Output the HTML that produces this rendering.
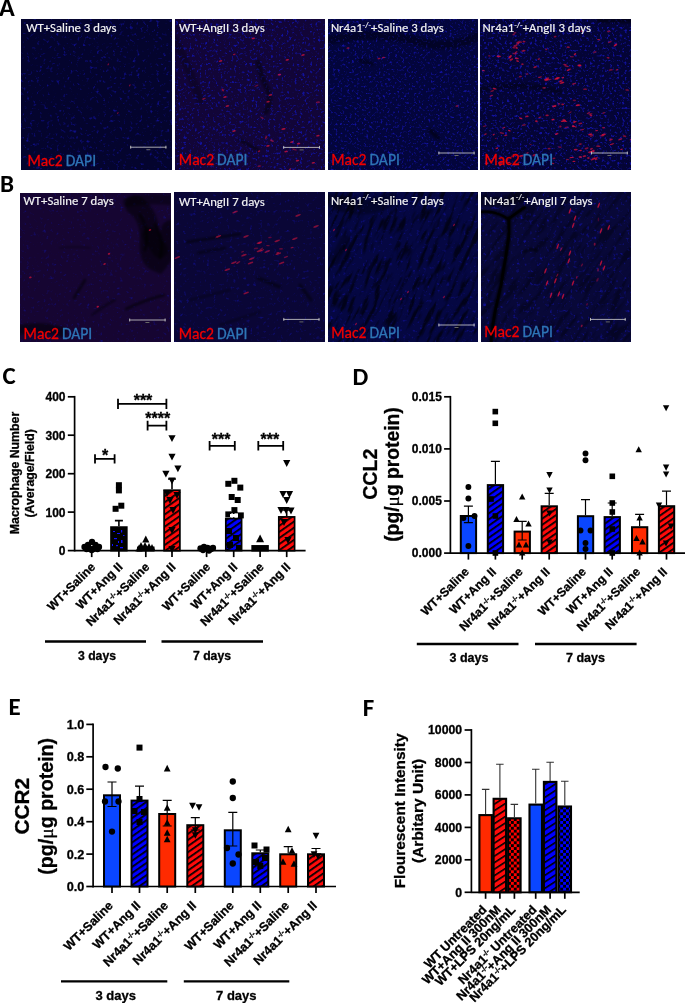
<!DOCTYPE html>
<html><head><meta charset="utf-8"><title>Figure</title>
<style>html,body{margin:0;padding:0;background:#fff;width:685px;height:1003px;overflow:hidden}svg{display:block}</style>
</head><body>
<svg width="685" height="1003" viewBox="0 0 685 1003">
<defs>
<filter id="rb" x="-50%" y="-50%" width="200%" height="200%"><feGaussianBlur stdDeviation="0.5"/></filter>
<filter id="db" x="-50%" y="-50%" width="200%" height="200%"><feGaussianBlur stdDeviation="1.2"/></filter>
<clipPath id="cp0"><rect x="21" y="19" width="151" height="151"/></clipPath>
<filter id="nz0" x="21" y="19" width="151" height="151" filterUnits="userSpaceOnUse" color-interpolation-filters="sRGB">
<feTurbulence type="fractalNoise" baseFrequency="0.3" numOctaves="2" seed="7"/>
<feColorMatrix type="matrix" values="0 0 0 0 0.07  0 0 0 0 0.07  0 0 0 0 0.62  3.30 0 0 0 -1.98"/>
<feGaussianBlur stdDeviation="0.55"/>
</filter>
<clipPath id="cp1"><rect x="175" y="19" width="150" height="151"/></clipPath>
<filter id="nz1" x="175" y="19" width="150" height="151" filterUnits="userSpaceOnUse" color-interpolation-filters="sRGB">
<feTurbulence type="fractalNoise" baseFrequency="0.38" numOctaves="2" seed="14"/>
<feColorMatrix type="matrix" values="0 0 0 0 0.07  0 0 0 0 0.07  0 0 0 0 0.62  4.80 0 0 0 -2.74"/>
<feGaussianBlur stdDeviation="0.55"/>
</filter>
<clipPath id="cp2"><rect x="328" y="19" width="150" height="151"/></clipPath>
<filter id="nz2" x="328" y="19" width="150" height="151" filterUnits="userSpaceOnUse" color-interpolation-filters="sRGB">
<feTurbulence type="fractalNoise" baseFrequency="0.42" numOctaves="2" seed="21"/>
<feColorMatrix type="matrix" values="0 0 0 0 0.07  0 0 0 0 0.07  0 0 0 0 0.62  4.20 0 0 0 -2.35"/>
<feGaussianBlur stdDeviation="0.55"/>
</filter>
<clipPath id="cp3"><rect x="480" y="19" width="151" height="151"/></clipPath>
<filter id="nz3" x="480" y="19" width="151" height="151" filterUnits="userSpaceOnUse" color-interpolation-filters="sRGB">
<feTurbulence type="fractalNoise" baseFrequency="0.4" numOctaves="2" seed="28"/>
<feColorMatrix type="matrix" values="0 0 0 0 0.07  0 0 0 0 0.07  0 0 0 0 0.62  4.80 0 0 0 -2.69"/>
<feGaussianBlur stdDeviation="0.55"/>
</filter>
<clipPath id="cp4"><rect x="20" y="193" width="151" height="149"/></clipPath>
<filter id="nz4" x="20" y="193" width="151" height="149" filterUnits="userSpaceOnUse" color-interpolation-filters="sRGB">
<feTurbulence type="fractalNoise" baseFrequency="0.3" numOctaves="2" seed="35"/>
<feColorMatrix type="matrix" values="0 0 0 0 0.07  0 0 0 0 0.07  0 0 0 0 0.62  2.10 0 0 0 -1.30"/>
<feGaussianBlur stdDeviation="0.55"/>
</filter>
<clipPath id="cp5"><rect x="174" y="192" width="151" height="150"/></clipPath>
<filter id="nz5" x="174" y="192" width="151" height="150" filterUnits="userSpaceOnUse" color-interpolation-filters="sRGB">
<feTurbulence type="fractalNoise" baseFrequency="0.3" numOctaves="2" seed="42"/>
<feColorMatrix type="matrix" values="0 0 0 0 0.07  0 0 0 0 0.07  0 0 0 0 0.62  2.40 0 0 0 -1.49"/>
<feGaussianBlur stdDeviation="0.55"/>
</filter>
<clipPath id="cp6"><rect x="328" y="192" width="150" height="150"/></clipPath>
<filter id="nz6" x="328" y="192" width="150" height="150" filterUnits="userSpaceOnUse" color-interpolation-filters="sRGB">
<feTurbulence type="fractalNoise" baseFrequency="0.3" numOctaves="2" seed="49"/>
<feColorMatrix type="matrix" values="0 0 0 0 0.07  0 0 0 0 0.07  0 0 0 0 0.62  2.70 0 0 0 -1.67"/>
<feGaussianBlur stdDeviation="0.55"/>
</filter>
<filter id="st6" x="-20%" y="-20%" width="140%" height="140%" color-interpolation-filters="sRGB">
<feTurbulence type="fractalNoise" baseFrequency="0.22 0.045" numOctaves="2" seed="77"/>
<feColorMatrix type="matrix" values="0 0 0 0 0  0 0 0 0 0  0 0 0 0 0  -6 0 0 0 2.95"/>
<feGaussianBlur stdDeviation="0.7"/>
</filter>
<clipPath id="cp7"><rect x="481" y="192" width="150" height="150"/></clipPath>
<filter id="nz7" x="481" y="192" width="150" height="150" filterUnits="userSpaceOnUse" color-interpolation-filters="sRGB">
<feTurbulence type="fractalNoise" baseFrequency="0.3" numOctaves="2" seed="56"/>
<feColorMatrix type="matrix" values="0 0 0 0 0.07  0 0 0 0 0.07  0 0 0 0 0.62  3.30 0 0 0 -1.98"/>
<feGaussianBlur stdDeviation="0.55"/>
</filter>
<filter id="st7" x="-20%" y="-20%" width="140%" height="140%" color-interpolation-filters="sRGB">
<feTurbulence type="fractalNoise" baseFrequency="0.2 0.04" numOctaves="2" seed="88"/>
<feColorMatrix type="matrix" values="0 0 0 0 0  0 0 0 0 0  0 0 0 0 0  -6 0 0 0 2.95"/>
<feGaussianBlur stdDeviation="0.7"/>
</filter>

<pattern id="hB" patternUnits="userSpaceOnUse" width="5" height="5" patternTransform="rotate(-35)"><rect width="5" height="5" fill="#0000ff"/><rect width="5" height="1.75" fill="#000"/></pattern>
<pattern id="hR" patternUnits="userSpaceOnUse" width="5" height="5" patternTransform="rotate(-35)"><rect width="5" height="5" fill="#ff0a0a"/><rect width="5" height="1.75" fill="#000"/></pattern>
<pattern id="hBf" patternUnits="userSpaceOnUse" width="5.45" height="5.45" patternTransform="rotate(-33)"><rect width="5.45" height="5.45" fill="#0000ff"/><rect width="5.45" height="1.6" fill="#000"/></pattern>
<pattern id="hRf" patternUnits="userSpaceOnUse" width="5.45" height="5.45" patternTransform="rotate(-33)"><rect width="5.45" height="5.45" fill="#ff0a0a"/><rect width="5.45" height="1.6" fill="#000"/></pattern>
<pattern id="cR" patternUnits="userSpaceOnUse" x="0.5" y="0.3" width="5.8" height="5.8"><rect width="5.8" height="5.8" fill="#000"/><rect width="2.9" height="2.9" fill="#ff0000"/><rect x="2.9" y="2.9" width="2.9" height="2.9" fill="#ff0000"/></pattern>
<pattern id="cB" patternUnits="userSpaceOnUse" x="0.5" y="0.3" width="5.8" height="5.8"><rect width="5.8" height="5.8" fill="#000"/><rect width="2.9" height="2.9" fill="#0000ff"/><rect x="2.9" y="2.9" width="2.9" height="2.9" fill="#0000ff"/></pattern>

</defs>
<rect width="685" height="1003" fill="#fff"/>
<g clip-path="url(#cp0)">
<rect x="21" y="19" width="151" height="151" fill="rgb(4,4,46)"/>
<rect x="21" y="19" width="151" height="151" filter="url(#nz0)"/>
<g filter="url(#rb)">
<ellipse cx="108.3" cy="64.4" rx="1.2" ry="0.6" transform="rotate(-60 108.3 64.4)" fill="#e8143c" fill-opacity="0.51"/>
<ellipse cx="129.8" cy="85.4" rx="1.2" ry="0.6" transform="rotate(-60 129.8 85.4)" fill="#e8143c" fill-opacity="0.51"/>
<ellipse cx="117.8" cy="113.0" rx="1.2" ry="0.6" transform="rotate(-60 117.8 113.0)" fill="#e8143c" fill-opacity="0.51"/>
</g>
</g>
<text x="26.2" y="32.0" font-family="Carlito, Calibri, 'Liberation Sans', sans-serif" font-size="12.75" fill="#f4f4f4" stroke="#f4f4f4" stroke-width="0.15" textLength="90.2" lengthAdjust="spacingAndGlyphs">WT+Saline 3 days</text>
<text x="27.4" y="165.8" font-family="Carlito, Calibri, 'Liberation Sans', sans-serif" font-size="15.6" fill="#f00000" stroke="#f00000" stroke-width="0.3" textLength="35.31" lengthAdjust="spacingAndGlyphs">Mac2</text>
<text x="65.7" y="165.8" font-family="Carlito, Calibri, 'Liberation Sans', sans-serif" font-size="15.6" fill="#2e75b6" stroke="#2e75b6" stroke-width="0.3" textLength="30.38" lengthAdjust="spacingAndGlyphs">DAPI</text>
<path d="M130.2 147.2H166.4M130.7 145.7v3M165.9 145.7v3" stroke="#c8c8c8" stroke-width="0.85" fill="none"/>
<rect x="146.3" y="149.2" width="4" height="1" fill="#666"/>
<g clip-path="url(#cp1)">
<rect x="175" y="19" width="150" height="151" fill="rgb(18,5,56)"/>
<rect x="175" y="19" width="150" height="151" filter="url(#nz1)"/>
<g filter="url(#db)" fill="none" stroke="#000" stroke-linecap="round">
<path d="M258 62 Q262 80 268 90 Q272 100 266 112" stroke-width="5" stroke-opacity="0.45"/>
<path d="M240 140 L258 150" stroke-width="3" stroke-opacity="0.5"/>
<path d="M175 40 Q190 70 200 100" stroke-width="8" stroke-opacity="0.25"/>
</g>
<g filter="url(#rb)">
<ellipse cx="253.3" cy="38.4" rx="1.8" ry="0.8" transform="rotate(-10 253.3 38.4)" fill="#e8143c" fill-opacity="0.68"/>
<ellipse cx="287.3" cy="59.9" rx="1.8" ry="0.8" transform="rotate(-10 287.3 59.9)" fill="#e8143c" fill-opacity="0.68"/>
<ellipse cx="303.0" cy="55.0" rx="1.8" ry="0.8" transform="rotate(-10 303.0 55.0)" fill="#e8143c" fill-opacity="0.68"/>
<ellipse cx="220.5" cy="61.0" rx="1.8" ry="0.8" transform="rotate(-10 220.5 61.0)" fill="#e8143c" fill-opacity="0.68"/>
<ellipse cx="270.3" cy="95.0" rx="1.8" ry="0.8" transform="rotate(-10 270.3 95.0)" fill="#e8143c" fill-opacity="0.68"/>
<ellipse cx="268.0" cy="101.7" rx="1.8" ry="0.8" transform="rotate(-10 268.0 101.7)" fill="#e8143c" fill-opacity="0.68"/>
<ellipse cx="279.4" cy="74.6" rx="1.8" ry="0.8" transform="rotate(-10 279.4 74.6)" fill="#e8143c" fill-opacity="0.68"/>
<ellipse cx="227.3" cy="106.0" rx="1.8" ry="0.8" transform="rotate(-10 227.3 106.0)" fill="#e8143c" fill-opacity="0.68"/>
<ellipse cx="234.0" cy="131.0" rx="1.8" ry="0.8" transform="rotate(-10 234.0 131.0)" fill="#e8143c" fill-opacity="0.68"/>
<ellipse cx="283.9" cy="128.9" rx="1.8" ry="0.8" transform="rotate(-10 283.9 128.9)" fill="#e8143c" fill-opacity="0.68"/>
<ellipse cx="268.0" cy="145.9" rx="1.8" ry="0.8" transform="rotate(-10 268.0 145.9)" fill="#e8143c" fill-opacity="0.68"/>
<ellipse cx="291.8" cy="142.0" rx="1.8" ry="0.8" transform="rotate(-10 291.8 142.0)" fill="#e8143c" fill-opacity="0.68"/>
<ellipse cx="298.6" cy="143.6" rx="1.8" ry="0.8" transform="rotate(-10 298.6 143.6)" fill="#e8143c" fill-opacity="0.68"/>
<ellipse cx="317.8" cy="135.7" rx="1.8" ry="0.8" transform="rotate(-10 317.8 135.7)" fill="#e8143c" fill-opacity="0.68"/>
<ellipse cx="286.0" cy="151.5" rx="1.8" ry="0.8" transform="rotate(-10 286.0 151.5)" fill="#e8143c" fill-opacity="0.68"/>
<ellipse cx="297.5" cy="160.6" rx="1.8" ry="0.8" transform="rotate(-10 297.5 160.6)" fill="#e8143c" fill-opacity="0.68"/>
<ellipse cx="313.3" cy="162.8" rx="1.8" ry="0.8" transform="rotate(-10 313.3 162.8)" fill="#e8143c" fill-opacity="0.68"/>
<ellipse cx="225.0" cy="97.0" rx="1.8" ry="0.8" transform="rotate(-10 225.0 97.0)" fill="#e8143c" fill-opacity="0.68"/>
<ellipse cx="336.8" cy="113.4" rx="1.3" ry="0.6" transform="rotate(15 336.8 113.4)" fill="#e8143c" fill-opacity="0.51"/>
<ellipse cx="262.0" cy="117.8" rx="2.0" ry="0.8" transform="rotate(28 262.0 117.8)" fill="#e8143c" fill-opacity="0.38"/>
<ellipse cx="271.9" cy="140.6" rx="2.2" ry="1.0" transform="rotate(26 271.9 140.6)" fill="#e8143c" fill-opacity="0.45"/>
<ellipse cx="282.2" cy="129.2" rx="1.2" ry="0.8" transform="rotate(-2 282.2 129.2)" fill="#e8143c" fill-opacity="0.42"/>
<ellipse cx="259.3" cy="166.1" rx="1.9" ry="0.8" transform="rotate(-9 259.3 166.1)" fill="#e8143c" fill-opacity="0.42"/>
<ellipse cx="294.4" cy="149.5" rx="2.6" ry="0.9" transform="rotate(17 294.4 149.5)" fill="#e8143c" fill-opacity="0.39"/>
<ellipse cx="318.0" cy="102.3" rx="2.2" ry="1.0" transform="rotate(-6 318.0 102.3)" fill="#e8143c" fill-opacity="0.43"/>
<ellipse cx="254.8" cy="193.5" rx="1.4" ry="0.9" transform="rotate(-19 254.8 193.5)" fill="#e8143c" fill-opacity="0.52"/>
<ellipse cx="266.1" cy="137.4" rx="1.9" ry="1.0" transform="rotate(-67 266.1 137.4)" fill="#e8143c" fill-opacity="0.43"/>
<ellipse cx="289.8" cy="169.7" rx="1.8" ry="0.8" transform="rotate(-53 289.8 169.7)" fill="#e8143c" fill-opacity="0.57"/>
<ellipse cx="234.3" cy="54.4" rx="1.5" ry="0.7" transform="rotate(-16 234.3 54.4)" fill="#e8143c" fill-opacity="0.57"/>
<ellipse cx="222.8" cy="90.0" rx="1.6" ry="1.0" transform="rotate(56 222.8 90.0)" fill="#e8143c" fill-opacity="0.52"/>
<ellipse cx="203.8" cy="98.7" rx="2.1" ry="0.8" transform="rotate(-18 203.8 98.7)" fill="#e8143c" fill-opacity="0.47"/>
<ellipse cx="259.0" cy="151.2" rx="1.3" ry="0.9" transform="rotate(-27 259.0 151.2)" fill="#e8143c" fill-opacity="0.53"/>
<ellipse cx="256.4" cy="85.7" rx="2.2" ry="0.6" transform="rotate(-24 256.4 85.7)" fill="#e8143c" fill-opacity="0.40"/>
</g>
</g>
<text x="178.9" y="31.9" font-family="Carlito, Calibri, 'Liberation Sans', sans-serif" font-size="12.75" fill="#f4f4f4" stroke="#f4f4f4" stroke-width="0.15" textLength="85.86" lengthAdjust="spacingAndGlyphs">WT+AngII 3 days</text>
<text x="178.8" y="164.9" font-family="Carlito, Calibri, 'Liberation Sans', sans-serif" font-size="15.6" fill="#f00000" stroke="#f00000" stroke-width="0.3" textLength="35.31" lengthAdjust="spacingAndGlyphs">Mac2</text>
<text x="217.1" y="164.9" font-family="Carlito, Calibri, 'Liberation Sans', sans-serif" font-size="15.6" fill="#2e75b6" stroke="#2e75b6" stroke-width="0.3" textLength="30.38" lengthAdjust="spacingAndGlyphs">DAPI</text>
<path d="M283.2 147.4H320M283.7 145.9v3M319.5 145.9v3" stroke="#c8c8c8" stroke-width="0.85" fill="none"/>
<rect x="299.6" y="149.4" width="4" height="1" fill="#666"/>
<g clip-path="url(#cp2)">
<rect x="328" y="19" width="150" height="151" fill="rgb(3,5,60)"/>
<rect x="328" y="19" width="150" height="151" filter="url(#nz2)"/>
<g filter="url(#db)" fill="none" stroke="#000" stroke-linecap="round">
<path d="M330 40 Q380 30 420 42 Q450 50 478 36" stroke-width="9" stroke-opacity="0.35"/>
<path d="M430 130 L438 138" stroke-width="4" stroke-opacity="0.5"/>
<path d="M360 60 L372 64" stroke-width="4" stroke-opacity="0.4"/>
</g>
<g filter="url(#rb)">
<ellipse cx="379.0" cy="58.5" rx="1.6" ry="0.8" transform="rotate(-10 379.0 58.5)" fill="#e8143c" fill-opacity="0.59"/>
<ellipse cx="383.5" cy="57.5" rx="1.6" ry="0.8" transform="rotate(-10 383.5 57.5)" fill="#e8143c" fill-opacity="0.59"/>
<ellipse cx="457.0" cy="106.0" rx="1.6" ry="0.8" transform="rotate(-10 457.0 106.0)" fill="#e8143c" fill-opacity="0.59"/>
<ellipse cx="348.0" cy="48.0" rx="1.6" ry="0.8" transform="rotate(-10 348.0 48.0)" fill="#e8143c" fill-opacity="0.59"/>
</g>
</g>
<text x="330.9" y="32.0" font-family="Carlito, Calibri, 'Liberation Sans', sans-serif" font-size="12.75" fill="#f4f4f4" stroke="#f4f4f4" stroke-width="0.15" textLength="112.88" lengthAdjust="spacingAndGlyphs">Nr4a1<tspan dy="-4.2" font-size="8.5">-/-</tspan><tspan dy="4.2">+Saline 3 days</tspan></text>
<text x="331.2" y="165.4" font-family="Carlito, Calibri, 'Liberation Sans', sans-serif" font-size="15.6" fill="#f00000" stroke="#f00000" stroke-width="0.3" textLength="35.31" lengthAdjust="spacingAndGlyphs">Mac2</text>
<text x="369.5" y="165.4" font-family="Carlito, Calibri, 'Liberation Sans', sans-serif" font-size="15.6" fill="#2e75b6" stroke="#2e75b6" stroke-width="0.3" textLength="30.38" lengthAdjust="spacingAndGlyphs">DAPI</text>
<path d="M438.4 153.0H474.6M438.9 151.5v3M474.1 151.5v3" stroke="#c8c8c8" stroke-width="0.85" fill="none"/>
<rect x="454.5" y="155.0" width="4" height="1" fill="#666"/>
<g clip-path="url(#cp3)">
<rect x="480" y="19" width="151" height="151" fill="rgb(4,4,54)"/>
<rect x="480" y="19" width="151" height="151" filter="url(#nz3)"/>
<g filter="url(#db)" fill="none" stroke="#000" stroke-linecap="round">
<path d="M480 90 Q520 80 560 92" stroke-width="5" stroke-opacity="0.35"/>
<path d="M600 20 L631 20" stroke-width="6" stroke-opacity="0.5"/>
</g>
<g filter="url(#rb)">
<ellipse cx="516.6" cy="47.9" rx="1.3" ry="0.8" transform="rotate(11 516.6 47.9)" fill="#e8143c" fill-opacity="0.74"/>
<ellipse cx="513.7" cy="47.7" rx="1.5" ry="0.7" transform="rotate(7 513.7 47.7)" fill="#e8143c" fill-opacity="0.54"/>
<ellipse cx="523.4" cy="50.8" rx="2.2" ry="0.9" transform="rotate(-6 523.4 50.8)" fill="#e8143c" fill-opacity="0.60"/>
<ellipse cx="515.5" cy="45.7" rx="2.2" ry="1.0" transform="rotate(-22 515.5 45.7)" fill="#e8143c" fill-opacity="0.54"/>
<ellipse cx="565.4" cy="121.3" rx="1.8" ry="0.6" transform="rotate(14 565.4 121.3)" fill="#e8143c" fill-opacity="0.67"/>
<ellipse cx="564.2" cy="120.3" rx="1.9" ry="1.0" transform="rotate(17 564.2 120.3)" fill="#e8143c" fill-opacity="0.76"/>
<ellipse cx="562.6" cy="121.2" rx="1.9" ry="0.8" transform="rotate(-3 562.6 121.2)" fill="#e8143c" fill-opacity="0.75"/>
<ellipse cx="574.9" cy="121.8" rx="2.0" ry="0.7" transform="rotate(-7 574.9 121.8)" fill="#e8143c" fill-opacity="0.67"/>
<ellipse cx="556.2" cy="78.6" rx="1.7" ry="0.7" transform="rotate(-14 556.2 78.6)" fill="#e8143c" fill-opacity="0.62"/>
<ellipse cx="547.4" cy="78.5" rx="1.9" ry="1.0" transform="rotate(-19 547.4 78.5)" fill="#e8143c" fill-opacity="0.54"/>
<ellipse cx="556.3" cy="79.0" rx="2.1" ry="0.8" transform="rotate(-7 556.3 79.0)" fill="#e8143c" fill-opacity="0.56"/>
<ellipse cx="557.9" cy="78.1" rx="2.0" ry="1.0" transform="rotate(-7 557.9 78.1)" fill="#e8143c" fill-opacity="0.79"/>
<ellipse cx="593.0" cy="158.9" rx="2.4" ry="0.9" transform="rotate(-32 593.0 158.9)" fill="#e8143c" fill-opacity="0.69"/>
<ellipse cx="596.2" cy="159.3" rx="1.4" ry="0.8" transform="rotate(-17 596.2 159.3)" fill="#e8143c" fill-opacity="0.55"/>
<ellipse cx="574.0" cy="161.4" rx="1.6" ry="0.6" transform="rotate(-1 574.0 161.4)" fill="#e8143c" fill-opacity="0.74"/>
<ellipse cx="588.4" cy="158.0" rx="1.3" ry="1.0" transform="rotate(-0 588.4 158.0)" fill="#e8143c" fill-opacity="0.64"/>
<ellipse cx="520.1" cy="42.0" rx="2.0" ry="0.7" transform="rotate(5 520.1 42.0)" fill="#e8143c" fill-opacity="0.58"/>
<ellipse cx="518.1" cy="42.5" rx="1.8" ry="0.9" transform="rotate(-8 518.1 42.5)" fill="#e8143c" fill-opacity="0.63"/>
<ellipse cx="524.0" cy="41.6" rx="1.5" ry="0.8" transform="rotate(4 524.0 41.6)" fill="#e8143c" fill-opacity="0.58"/>
<ellipse cx="517.7" cy="43.9" rx="1.8" ry="0.6" transform="rotate(-23 517.7 43.9)" fill="#e8143c" fill-opacity="0.59"/>
<ellipse cx="522.4" cy="64.1" rx="1.4" ry="0.6" transform="rotate(6 522.4 64.1)" fill="#e8143c" fill-opacity="0.80"/>
<ellipse cx="516.8" cy="58.4" rx="2.0" ry="0.9" transform="rotate(7 516.8 58.4)" fill="#e8143c" fill-opacity="0.73"/>
<ellipse cx="517.6" cy="61.1" rx="1.5" ry="0.9" transform="rotate(14 517.6 61.1)" fill="#e8143c" fill-opacity="0.61"/>
<ellipse cx="511.3" cy="59.6" rx="2.0" ry="0.9" transform="rotate(-26 511.3 59.6)" fill="#e8143c" fill-opacity="0.67"/>
<ellipse cx="574.6" cy="126.5" rx="2.3" ry="0.6" transform="rotate(22 574.6 126.5)" fill="#e8143c" fill-opacity="0.71"/>
<ellipse cx="573.2" cy="126.3" rx="1.4" ry="1.0" transform="rotate(-1 573.2 126.3)" fill="#e8143c" fill-opacity="0.71"/>
<ellipse cx="580.3" cy="123.5" rx="2.0" ry="0.8" transform="rotate(-9 580.3 123.5)" fill="#e8143c" fill-opacity="0.58"/>
<ellipse cx="560.4" cy="126.6" rx="1.2" ry="1.0" transform="rotate(-7 560.4 126.6)" fill="#e8143c" fill-opacity="0.54"/>
<ellipse cx="603.7" cy="134.5" rx="2.3" ry="0.7" transform="rotate(-13 603.7 134.5)" fill="#e8143c" fill-opacity="0.78"/>
<ellipse cx="591.8" cy="136.0" rx="1.8" ry="0.6" transform="rotate(-21 591.8 136.0)" fill="#e8143c" fill-opacity="0.52"/>
<ellipse cx="590.6" cy="134.8" rx="2.2" ry="0.8" transform="rotate(-1 590.6 134.8)" fill="#e8143c" fill-opacity="0.74"/>
<ellipse cx="602.4" cy="135.6" rx="2.2" ry="0.9" transform="rotate(-8 602.4 135.6)" fill="#e8143c" fill-opacity="0.54"/>
<ellipse cx="562.8" cy="82.3" rx="1.5" ry="0.8" transform="rotate(-3 562.8 82.3)" fill="#e8143c" fill-opacity="0.54"/>
<ellipse cx="560.7" cy="81.3" rx="1.8" ry="0.8" transform="rotate(-25 560.7 81.3)" fill="#e8143c" fill-opacity="0.77"/>
<ellipse cx="561.8" cy="83.0" rx="2.3" ry="0.7" transform="rotate(-15 561.8 83.0)" fill="#e8143c" fill-opacity="0.64"/>
<ellipse cx="574.0" cy="83.8" rx="2.2" ry="0.7" transform="rotate(-15 574.0 83.8)" fill="#e8143c" fill-opacity="0.55"/>
<ellipse cx="540.1" cy="77.2" rx="2.1" ry="0.6" transform="rotate(-14 540.1 77.2)" fill="#e8143c" fill-opacity="0.65"/>
<ellipse cx="562.9" cy="77.6" rx="1.3" ry="0.7" transform="rotate(-21 562.9 77.6)" fill="#e8143c" fill-opacity="0.76"/>
<ellipse cx="547.3" cy="80.0" rx="2.4" ry="0.9" transform="rotate(-15 547.3 80.0)" fill="#e8143c" fill-opacity="0.60"/>
<ellipse cx="546.1" cy="79.5" rx="2.3" ry="0.7" transform="rotate(-15 546.1 79.5)" fill="#e8143c" fill-opacity="0.77"/>
<ellipse cx="590.6" cy="114.0" rx="2.1" ry="0.7" transform="rotate(-11 590.6 114.0)" fill="#e8143c" fill-opacity="0.53"/>
<ellipse cx="591.0" cy="115.4" rx="1.4" ry="1.0" transform="rotate(9 591.0 115.4)" fill="#e8143c" fill-opacity="0.62"/>
<ellipse cx="588.4" cy="113.0" rx="1.9" ry="0.6" transform="rotate(-31 588.4 113.0)" fill="#e8143c" fill-opacity="0.56"/>
<ellipse cx="603.7" cy="112.9" rx="1.6" ry="0.6" transform="rotate(-17 603.7 112.9)" fill="#e8143c" fill-opacity="0.52"/>
<ellipse cx="620.2" cy="139.3" rx="2.3" ry="0.7" transform="rotate(-20 620.2 139.3)" fill="#e8143c" fill-opacity="0.68"/>
<ellipse cx="612.0" cy="144.2" rx="2.4" ry="0.6" transform="rotate(-16 612.0 144.2)" fill="#e8143c" fill-opacity="0.70"/>
<ellipse cx="610.9" cy="139.7" rx="1.9" ry="0.9" transform="rotate(-17 610.9 139.7)" fill="#e8143c" fill-opacity="0.63"/>
<ellipse cx="631.3" cy="139.3" rx="2.0" ry="0.7" transform="rotate(-23 631.3 139.3)" fill="#e8143c" fill-opacity="0.58"/>
<ellipse cx="547.1" cy="115.4" rx="1.7" ry="0.8" transform="rotate(-4 547.1 115.4)" fill="#e8143c" fill-opacity="0.63"/>
<ellipse cx="526.9" cy="116.4" rx="1.8" ry="0.9" transform="rotate(-7 526.9 116.4)" fill="#e8143c" fill-opacity="0.69"/>
<ellipse cx="520.8" cy="118.3" rx="1.9" ry="0.7" transform="rotate(21 520.8 118.3)" fill="#e8143c" fill-opacity="0.80"/>
<ellipse cx="539.9" cy="117.3" rx="1.6" ry="0.6" transform="rotate(-16 539.9 117.3)" fill="#e8143c" fill-opacity="0.59"/>
<ellipse cx="527.5" cy="153.0" rx="1.4" ry="0.7" transform="rotate(-17 527.5 153.0)" fill="#e8143c" fill-opacity="0.56"/>
<ellipse cx="534.2" cy="155.2" rx="1.9" ry="1.0" transform="rotate(-26 534.2 155.2)" fill="#e8143c" fill-opacity="0.59"/>
<ellipse cx="513.9" cy="154.5" rx="1.3" ry="0.6" transform="rotate(-10 513.9 154.5)" fill="#e8143c" fill-opacity="0.53"/>
<ellipse cx="521.3" cy="155.9" rx="2.3" ry="0.9" transform="rotate(-8 521.3 155.9)" fill="#e8143c" fill-opacity="0.73"/>
<ellipse cx="584.5" cy="156.2" rx="1.9" ry="0.9" transform="rotate(-11 584.5 156.2)" fill="#e8143c" fill-opacity="0.66"/>
<ellipse cx="567.7" cy="159.5" rx="1.8" ry="0.6" transform="rotate(11 567.7 159.5)" fill="#e8143c" fill-opacity="0.56"/>
<ellipse cx="580.3" cy="157.0" rx="1.7" ry="0.9" transform="rotate(-1 580.3 157.0)" fill="#e8143c" fill-opacity="0.63"/>
<ellipse cx="571.7" cy="157.5" rx="2.3" ry="0.6" transform="rotate(-7 571.7 157.5)" fill="#e8143c" fill-opacity="0.80"/>
<ellipse cx="516.2" cy="52.1" rx="1.5" ry="0.8" transform="rotate(-27 516.2 52.1)" fill="#e8143c" fill-opacity="0.57"/>
<ellipse cx="510.2" cy="56.7" rx="2.0" ry="1.0" transform="rotate(-44 510.2 56.7)" fill="#e8143c" fill-opacity="0.79"/>
<ellipse cx="498.7" cy="56.4" rx="2.2" ry="0.8" transform="rotate(5 498.7 56.4)" fill="#e8143c" fill-opacity="0.78"/>
<ellipse cx="514.7" cy="53.6" rx="2.3" ry="0.8" transform="rotate(8 514.7 53.6)" fill="#e8143c" fill-opacity="0.52"/>
<ellipse cx="579.8" cy="65.5" rx="1.6" ry="1.0" transform="rotate(-16 579.8 65.5)" fill="#e8143c" fill-opacity="0.76"/>
<ellipse cx="568.8" cy="69.7" rx="2.3" ry="0.9" transform="rotate(-24 568.8 69.7)" fill="#e8143c" fill-opacity="0.72"/>
<ellipse cx="566.5" cy="66.1" rx="2.4" ry="0.7" transform="rotate(9 566.5 66.1)" fill="#e8143c" fill-opacity="0.66"/>
<ellipse cx="578.7" cy="65.3" rx="1.5" ry="0.7" transform="rotate(-13 578.7 65.3)" fill="#e8143c" fill-opacity="0.53"/>
<ellipse cx="592.4" cy="151.4" rx="2.4" ry="0.9" transform="rotate(-9 592.4 151.4)" fill="#e8143c" fill-opacity="0.76"/>
<ellipse cx="593.5" cy="150.6" rx="1.2" ry="0.9" transform="rotate(-20 593.5 150.6)" fill="#e8143c" fill-opacity="0.52"/>
<ellipse cx="589.6" cy="152.2" rx="1.6" ry="1.0" transform="rotate(-8 589.6 152.2)" fill="#e8143c" fill-opacity="0.60"/>
<ellipse cx="580.6" cy="150.5" rx="1.2" ry="0.8" transform="rotate(3 580.6 150.5)" fill="#e8143c" fill-opacity="0.80"/>
<ellipse cx="586.6" cy="148.3" rx="2.1" ry="0.9" transform="rotate(-15 586.6 148.3)" fill="#e8143c" fill-opacity="0.52"/>
<ellipse cx="591.5" cy="148.8" rx="1.5" ry="0.9" transform="rotate(-26 591.5 148.8)" fill="#e8143c" fill-opacity="0.63"/>
<ellipse cx="580.4" cy="144.1" rx="1.6" ry="0.8" transform="rotate(-9 580.4 144.1)" fill="#e8143c" fill-opacity="0.52"/>
<ellipse cx="598.2" cy="146.1" rx="2.3" ry="0.7" transform="rotate(2 598.2 146.1)" fill="#e8143c" fill-opacity="0.74"/>
<ellipse cx="501.3" cy="162.8" rx="1.5" ry="1.0" transform="rotate(-20 501.3 162.8)" fill="#e8143c" fill-opacity="0.66"/>
<ellipse cx="486.9" cy="163.3" rx="1.7" ry="1.0" transform="rotate(-1 486.9 163.3)" fill="#e8143c" fill-opacity="0.56"/>
<ellipse cx="500.2" cy="165.1" rx="1.3" ry="1.0" transform="rotate(-12 500.2 165.1)" fill="#e8143c" fill-opacity="0.71"/>
<ellipse cx="508.4" cy="162.7" rx="2.2" ry="0.7" transform="rotate(-11 508.4 162.7)" fill="#e8143c" fill-opacity="0.72"/>
<ellipse cx="493.7" cy="134.6" rx="1.2" ry="0.7" transform="rotate(-24 493.7 134.6)" fill="#e8143c" fill-opacity="0.69"/>
<ellipse cx="509.3" cy="130.7" rx="1.4" ry="0.7" transform="rotate(19 509.3 130.7)" fill="#e8143c" fill-opacity="0.79"/>
<ellipse cx="501.8" cy="133.0" rx="2.4" ry="0.6" transform="rotate(7 501.8 133.0)" fill="#e8143c" fill-opacity="0.71"/>
<ellipse cx="485.5" cy="134.1" rx="1.4" ry="0.7" transform="rotate(-13 485.5 134.1)" fill="#e8143c" fill-opacity="0.65"/>
<ellipse cx="554.2" cy="106.2" rx="2.2" ry="0.9" transform="rotate(-1 554.2 106.2)" fill="#e8143c" fill-opacity="0.58"/>
<ellipse cx="562.7" cy="104.4" rx="1.4" ry="0.8" transform="rotate(8 562.7 104.4)" fill="#e8143c" fill-opacity="0.61"/>
<ellipse cx="554.5" cy="106.1" rx="2.3" ry="0.7" transform="rotate(-28 554.5 106.1)" fill="#e8143c" fill-opacity="0.57"/>
<ellipse cx="577.9" cy="105.2" rx="2.2" ry="0.9" transform="rotate(-7 577.9 105.2)" fill="#e8143c" fill-opacity="0.79"/>
<ellipse cx="555.1" cy="36.6" rx="1.4" ry="0.8" transform="rotate(-14 555.1 36.6)" fill="#e8143c" fill-opacity="0.53"/>
<ellipse cx="550.2" cy="79.4" rx="1.5" ry="0.6" transform="rotate(-3 550.2 79.4)" fill="#e8143c" fill-opacity="0.39"/>
<ellipse cx="596.6" cy="130.6" rx="1.5" ry="0.6" transform="rotate(-13 596.6 130.6)" fill="#e8143c" fill-opacity="0.72"/>
<ellipse cx="552.8" cy="163.4" rx="1.6" ry="0.7" transform="rotate(10 552.8 163.4)" fill="#e8143c" fill-opacity="0.62"/>
<ellipse cx="570.0" cy="112.5" rx="1.9" ry="0.6" transform="rotate(-33 570.0 112.5)" fill="#e8143c" fill-opacity="0.44"/>
<ellipse cx="489.2" cy="55.9" rx="1.3" ry="0.7" transform="rotate(2 489.2 55.9)" fill="#e8143c" fill-opacity="0.50"/>
<ellipse cx="575.0" cy="54.1" rx="1.4" ry="0.8" transform="rotate(-44 575.0 54.1)" fill="#e8143c" fill-opacity="0.74"/>
<ellipse cx="520.4" cy="76.6" rx="1.6" ry="0.8" transform="rotate(-18 520.4 76.6)" fill="#e8143c" fill-opacity="0.52"/>
<ellipse cx="608.1" cy="57.8" rx="1.6" ry="0.6" transform="rotate(7 608.1 57.8)" fill="#e8143c" fill-opacity="0.76"/>
<ellipse cx="503.8" cy="127.7" rx="1.7" ry="0.6" transform="rotate(-22 503.8 127.7)" fill="#e8143c" fill-opacity="0.70"/>
<ellipse cx="609.8" cy="42.0" rx="2.1" ry="0.8" transform="rotate(-23 609.8 42.0)" fill="#e8143c" fill-opacity="0.48"/>
<ellipse cx="491.3" cy="95.7" rx="2.0" ry="0.7" transform="rotate(-19 491.3 95.7)" fill="#e8143c" fill-opacity="0.56"/>
<ellipse cx="524.0" cy="125.0" rx="2.2" ry="0.9" transform="rotate(-12 524.0 125.0)" fill="#e8143c" fill-opacity="0.38"/>
<ellipse cx="559.8" cy="147.1" rx="2.0" ry="0.6" transform="rotate(7 559.8 147.1)" fill="#e8143c" fill-opacity="0.55"/>
<ellipse cx="494.6" cy="88.7" rx="2.1" ry="0.7" transform="rotate(13 494.6 88.7)" fill="#e8143c" fill-opacity="0.70"/>
<ellipse cx="512.3" cy="155.9" rx="2.1" ry="0.9" transform="rotate(-39 512.3 155.9)" fill="#e8143c" fill-opacity="0.39"/>
<ellipse cx="483.5" cy="70.6" rx="1.6" ry="0.7" transform="rotate(10 483.5 70.6)" fill="#e8143c" fill-opacity="0.64"/>
<ellipse cx="574.4" cy="100.4" rx="1.7" ry="0.8" transform="rotate(4 574.4 100.4)" fill="#e8143c" fill-opacity="0.41"/>
<ellipse cx="546.3" cy="49.4" rx="1.1" ry="0.8" transform="rotate(-14 546.3 49.4)" fill="#e8143c" fill-opacity="0.49"/>
<ellipse cx="568.2" cy="47.1" rx="1.8" ry="0.6" transform="rotate(4 568.2 47.1)" fill="#e8143c" fill-opacity="0.75"/>
<ellipse cx="505.8" cy="135.4" rx="1.7" ry="0.7" transform="rotate(-13 505.8 135.4)" fill="#e8143c" fill-opacity="0.67"/>
<ellipse cx="559.1" cy="103.9" rx="1.3" ry="0.8" transform="rotate(5 559.1 103.9)" fill="#e8143c" fill-opacity="0.45"/>
<ellipse cx="553.0" cy="119.6" rx="1.7" ry="0.8" transform="rotate(-17 553.0 119.6)" fill="#e8143c" fill-opacity="0.75"/>
<ellipse cx="582.2" cy="129.7" rx="2.1" ry="0.7" transform="rotate(-12 582.2 129.7)" fill="#e8143c" fill-opacity="0.51"/>
<ellipse cx="527.1" cy="74.0" rx="1.4" ry="0.7" transform="rotate(-4 527.1 74.0)" fill="#e8143c" fill-opacity="0.49"/>
<ellipse cx="536.4" cy="121.2" rx="1.4" ry="0.9" transform="rotate(9 536.4 121.2)" fill="#e8143c" fill-opacity="0.69"/>
<ellipse cx="530.6" cy="144.5" rx="1.2" ry="0.6" transform="rotate(-4 530.6 144.5)" fill="#e8143c" fill-opacity="0.38"/>
<ellipse cx="608.7" cy="31.4" rx="1.8" ry="0.8" transform="rotate(-8 608.7 31.4)" fill="#e8143c" fill-opacity="0.47"/>
<ellipse cx="518.6" cy="162.5" rx="1.5" ry="0.7" transform="rotate(-31 518.6 162.5)" fill="#e8143c" fill-opacity="0.49"/>
<ellipse cx="495.9" cy="138.5" rx="1.1" ry="0.6" transform="rotate(1 495.9 138.5)" fill="#e8143c" fill-opacity="0.38"/>
<ellipse cx="627.1" cy="90.0" rx="1.9" ry="0.8" transform="rotate(6 627.1 90.0)" fill="#e8143c" fill-opacity="0.52"/>
<ellipse cx="581.9" cy="31.1" rx="1.4" ry="0.8" transform="rotate(-10 581.9 31.1)" fill="#e8143c" fill-opacity="0.60"/>
<ellipse cx="554.0" cy="158.4" rx="1.5" ry="0.8" transform="rotate(-13 554.0 158.4)" fill="#e8143c" fill-opacity="0.53"/>
<ellipse cx="513.6" cy="34.7" rx="1.3" ry="0.6" transform="rotate(-4 513.6 34.7)" fill="#e8143c" fill-opacity="0.56"/>
<ellipse cx="590.0" cy="134.1" rx="2.1" ry="0.7" transform="rotate(-23 590.0 134.1)" fill="#e8143c" fill-opacity="0.53"/>
<ellipse cx="615.5" cy="45.0" rx="2.1" ry="0.9" transform="rotate(-36 615.5 45.0)" fill="#e8143c" fill-opacity="0.76"/>
<ellipse cx="603.5" cy="127.7" rx="1.5" ry="0.8" transform="rotate(6 603.5 127.7)" fill="#e8143c" fill-opacity="0.62"/>
<ellipse cx="617.0" cy="69.7" rx="1.4" ry="0.6" transform="rotate(-22 617.0 69.7)" fill="#e8143c" fill-opacity="0.72"/>
<ellipse cx="574.3" cy="122.5" rx="1.3" ry="0.7" transform="rotate(-38 574.3 122.5)" fill="#e8143c" fill-opacity="0.52"/>
<ellipse cx="544.2" cy="87.8" rx="2.0" ry="0.6" transform="rotate(-4 544.2 87.8)" fill="#e8143c" fill-opacity="0.71"/>
<ellipse cx="484.7" cy="126.1" rx="1.9" ry="0.7" transform="rotate(-9 484.7 126.1)" fill="#e8143c" fill-opacity="0.44"/>
<ellipse cx="535.2" cy="67.1" rx="1.9" ry="0.8" transform="rotate(-20 535.2 67.1)" fill="#e8143c" fill-opacity="0.64"/>
<ellipse cx="624.5" cy="136.2" rx="1.9" ry="0.9" transform="rotate(14 624.5 136.2)" fill="#e8143c" fill-opacity="0.52"/>
<ellipse cx="556.7" cy="133.8" rx="1.9" ry="0.9" transform="rotate(-19 556.7 133.8)" fill="#e8143c" fill-opacity="0.67"/>
<ellipse cx="580.0" cy="65.6" rx="1.7" ry="0.7" transform="rotate(-14 580.0 65.6)" fill="#e8143c" fill-opacity="0.39"/>
<ellipse cx="621.5" cy="149.3" rx="1.4" ry="0.6" transform="rotate(-15 621.5 149.3)" fill="#e8143c" fill-opacity="0.70"/>
<ellipse cx="594.8" cy="52.1" rx="2.0" ry="0.9" transform="rotate(-19 594.8 52.1)" fill="#e8143c" fill-opacity="0.40"/>
<ellipse cx="492.2" cy="91.0" rx="1.9" ry="0.8" transform="rotate(-13 492.2 91.0)" fill="#e8143c" fill-opacity="0.47"/>
<ellipse cx="598.7" cy="39.6" rx="1.7" ry="0.7" transform="rotate(2 598.7 39.6)" fill="#e8143c" fill-opacity="0.69"/>
<ellipse cx="514.9" cy="32.9" rx="1.6" ry="0.7" transform="rotate(-8 514.9 32.9)" fill="#e8143c" fill-opacity="0.60"/>
<ellipse cx="566.7" cy="127.3" rx="2.1" ry="0.7" transform="rotate(-13 566.7 127.3)" fill="#e8143c" fill-opacity="0.48"/>
<ellipse cx="496.9" cy="148.2" rx="1.4" ry="0.8" transform="rotate(-14 496.9 148.2)" fill="#e8143c" fill-opacity="0.72"/>
<ellipse cx="538.8" cy="59.1" rx="1.3" ry="0.7" transform="rotate(-12 538.8 59.1)" fill="#e8143c" fill-opacity="0.71"/>
<ellipse cx="575.7" cy="149.6" rx="2.0" ry="0.8" transform="rotate(-4 575.7 149.6)" fill="#e8143c" fill-opacity="0.70"/>
<ellipse cx="585.1" cy="89.2" rx="2.0" ry="0.9" transform="rotate(-1 585.1 89.2)" fill="#e8143c" fill-opacity="0.45"/>
<ellipse cx="549.1" cy="148.6" rx="1.6" ry="0.9" transform="rotate(-3 549.1 148.6)" fill="#e8143c" fill-opacity="0.52"/>
<ellipse cx="565.0" cy="64.6" rx="1.8" ry="0.7" transform="rotate(7 565.0 64.6)" fill="#e8143c" fill-opacity="0.60"/>
<ellipse cx="610.8" cy="69.9" rx="2.1" ry="0.8" transform="rotate(-7 610.8 69.9)" fill="#e8143c" fill-opacity="0.44"/>
<ellipse cx="595.9" cy="158.2" rx="2.2" ry="0.8" transform="rotate(-23 595.9 158.2)" fill="#e8143c" fill-opacity="0.63"/>
<ellipse cx="571.9" cy="56.7" rx="2.1" ry="0.8" transform="rotate(4 571.9 56.7)" fill="#e8143c" fill-opacity="0.41"/>
</g>
</g>
<text x="482.5" y="32.0" font-family="Carlito, Calibri, 'Liberation Sans', sans-serif" font-size="12.75" fill="#f4f4f4" stroke="#f4f4f4" stroke-width="0.15" textLength="108.52" lengthAdjust="spacingAndGlyphs">Nr4a1<tspan dy="-4.2" font-size="8.5">-/-</tspan><tspan dy="4.2">+AngII 3 days</tspan></text>
<text x="484.4" y="165.4" font-family="Carlito, Calibri, 'Liberation Sans', sans-serif" font-size="15.6" fill="#f00000" stroke="#f00000" stroke-width="0.3" textLength="35.31" lengthAdjust="spacingAndGlyphs">Mac2</text>
<text x="522.7" y="165.4" font-family="Carlito, Calibri, 'Liberation Sans', sans-serif" font-size="15.6" fill="#2e75b6" stroke="#2e75b6" stroke-width="0.3" textLength="30.38" lengthAdjust="spacingAndGlyphs">DAPI</text>
<path d="M591 153.0H627.8M591.5 151.5v3M627.3 151.5v3" stroke="#c8c8c8" stroke-width="0.85" fill="none"/>
<rect x="607.4" y="155.0" width="4" height="1" fill="#666"/>
<g clip-path="url(#cp4)">
<rect x="20" y="193" width="151" height="149" fill="rgb(22,5,50)"/>
<rect x="20" y="193" width="151" height="149" filter="url(#nz4)"/>
<g filter="url(#db)" fill="none" stroke="#000" stroke-linecap="round">
<path d="M135 205 Q150 215 150 240 Q148 258 158 262 Q168 250 171 230" stroke-width="20" stroke-opacity="0.5"/>
<path d="M128 202 Q145 198 171 200" stroke-width="10" stroke-opacity="0.4"/>
<path d="M150 235 L160 250" stroke-width="16" stroke-opacity="0.45"/>
<path d="M140 215 Q150 230 145 250" stroke-width="3" stroke-opacity="0.6"/>
<path d="M155 225 Q165 240 160 258" stroke-width="3" stroke-opacity="0.6"/>
<path d="M74 298 L85 280" stroke-width="2.5" stroke-opacity="0.6"/>
<path d="M92 315 Q105 305 115 300" stroke-width="2" stroke-opacity="0.5"/>
<path d="M126 309 Q145 300 164 295" stroke-width="2.5" stroke-opacity="0.6"/>
<path d="M20 330 Q40 325 62 332" stroke-width="10" stroke-opacity="0.5"/>
<path d="M60 248 Q75 246 90 248" stroke-width="1.5" stroke-opacity="0.4"/>
</g>
<g filter="url(#rb)">
<ellipse cx="109.0" cy="253.8" rx="1.3" ry="0.9" transform="rotate(-20 109.0 253.8)" fill="#e8143c" fill-opacity="0.64"/>
<ellipse cx="104.6" cy="264.0" rx="1.3" ry="0.9" transform="rotate(-20 104.6 264.0)" fill="#e8143c" fill-opacity="0.64"/>
<ellipse cx="30.4" cy="277.4" rx="1.3" ry="0.9" transform="rotate(-20 30.4 277.4)" fill="#e8143c" fill-opacity="0.64"/>
<ellipse cx="97.8" cy="306.7" rx="1.3" ry="0.9" transform="rotate(-20 97.8 306.7)" fill="#e8143c" fill-opacity="0.64"/>
<ellipse cx="150.0" cy="230.0" rx="1.3" ry="0.9" transform="rotate(-20 150.0 230.0)" fill="#e8143c" fill-opacity="0.64"/>
</g>
</g>
<text x="23.5" y="205.1" font-family="Carlito, Calibri, 'Liberation Sans', sans-serif" font-size="12.75" fill="#f4f4f4" stroke="#f4f4f4" stroke-width="0.15" textLength="90.2" lengthAdjust="spacingAndGlyphs">WT+Saline 7 days</text>
<text x="23.6" y="338.7" font-family="Carlito, Calibri, 'Liberation Sans', sans-serif" font-size="15.6" fill="#f00000" stroke="#f00000" stroke-width="0.3" textLength="35.31" lengthAdjust="spacingAndGlyphs">Mac2</text>
<text x="61.9" y="338.7" font-family="Carlito, Calibri, 'Liberation Sans', sans-serif" font-size="15.6" fill="#2e75b6" stroke="#2e75b6" stroke-width="0.3" textLength="30.38" lengthAdjust="spacingAndGlyphs">DAPI</text>
<path d="M129.2 320.0H165.6M129.7 318.5v3M165.1 318.5v3" stroke="#c8c8c8" stroke-width="0.85" fill="none"/>
<rect x="145.39999999999998" y="322.0" width="4" height="1" fill="#666"/>
<g clip-path="url(#cp5)">
<rect x="174" y="192" width="151" height="150" fill="rgb(10,6,54)"/>
<rect x="174" y="192" width="151" height="150" filter="url(#nz5)"/>
<g filter="url(#db)" fill="none" stroke="#000" stroke-linecap="round">
<path d="M187 242 L240 234" stroke-width="2.5" stroke-opacity="0.6"/>
<path d="M198 253 L225 248" stroke-width="2.5" stroke-opacity="0.5"/>
<path d="M258 278 L280 287" stroke-width="3" stroke-opacity="0.5"/>
<path d="M300 285 L311 300" stroke-width="3" stroke-opacity="0.5"/>
<path d="M190 300 L230 290" stroke-width="2" stroke-opacity="0.4"/>
<path d="M220 325 L260 312" stroke-width="2" stroke-opacity="0.4"/>
</g>
<g filter="url(#rb)">
<ellipse cx="259.4" cy="242.6" rx="3.0" ry="0.9" transform="rotate(-20 259.4 242.6)" fill="#e8143c" fill-opacity="0.53"/>
<ellipse cx="246.0" cy="236.4" rx="3.0" ry="0.9" transform="rotate(-20 246.0 236.4)" fill="#e8143c" fill-opacity="0.53"/>
<ellipse cx="277.2" cy="240.8" rx="3.0" ry="0.9" transform="rotate(-20 277.2 240.8)" fill="#e8143c" fill-opacity="0.53"/>
<ellipse cx="294.9" cy="238.6" rx="3.0" ry="0.9" transform="rotate(-20 294.9 238.6)" fill="#e8143c" fill-opacity="0.53"/>
<ellipse cx="267.2" cy="251.5" rx="3.0" ry="0.9" transform="rotate(-20 267.2 251.5)" fill="#e8143c" fill-opacity="0.53"/>
<ellipse cx="278.3" cy="253.7" rx="3.0" ry="0.9" transform="rotate(-20 278.3 253.7)" fill="#e8143c" fill-opacity="0.53"/>
<ellipse cx="259.4" cy="250.8" rx="3.0" ry="0.9" transform="rotate(-20 259.4 250.8)" fill="#e8143c" fill-opacity="0.53"/>
<ellipse cx="243.9" cy="255.2" rx="3.0" ry="0.9" transform="rotate(-20 243.9 255.2)" fill="#e8143c" fill-opacity="0.53"/>
<ellipse cx="251.7" cy="258.6" rx="3.0" ry="0.9" transform="rotate(-20 251.7 258.6)" fill="#e8143c" fill-opacity="0.53"/>
<ellipse cx="233.9" cy="262.6" rx="3.0" ry="0.9" transform="rotate(-20 233.9 262.6)" fill="#e8143c" fill-opacity="0.53"/>
<ellipse cx="227.3" cy="269.7" rx="3.0" ry="0.9" transform="rotate(-20 227.3 269.7)" fill="#e8143c" fill-opacity="0.53"/>
<ellipse cx="250.5" cy="263.0" rx="3.0" ry="0.9" transform="rotate(-20 250.5 263.0)" fill="#e8143c" fill-opacity="0.53"/>
<ellipse cx="281.6" cy="263.0" rx="3.0" ry="0.9" transform="rotate(-20 281.6 263.0)" fill="#e8143c" fill-opacity="0.53"/>
<ellipse cx="246.1" cy="293.0" rx="3.0" ry="0.9" transform="rotate(-20 246.1 293.0)" fill="#e8143c" fill-opacity="0.53"/>
<ellipse cx="235.0" cy="212.0" rx="3.0" ry="0.9" transform="rotate(-20 235.0 212.0)" fill="#e8143c" fill-opacity="0.53"/>
<ellipse cx="298.0" cy="215.3" rx="3.0" ry="0.9" transform="rotate(-20 298.0 215.3)" fill="#e8143c" fill-opacity="0.53"/>
<ellipse cx="316.0" cy="226.4" rx="3.0" ry="0.9" transform="rotate(-20 316.0 226.4)" fill="#e8143c" fill-opacity="0.53"/>
<ellipse cx="177.3" cy="257.5" rx="3.0" ry="0.9" transform="rotate(-20 177.3 257.5)" fill="#e8143c" fill-opacity="0.53"/>
<ellipse cx="218.4" cy="236.4" rx="3.0" ry="0.9" transform="rotate(-20 218.4 236.4)" fill="#e8143c" fill-opacity="0.53"/>
<ellipse cx="270.0" cy="237.5" rx="1.9" ry="0.7" transform="rotate(-7 270.0 237.5)" fill="#e8143c" fill-opacity="0.37"/>
<ellipse cx="262.1" cy="250.4" rx="2.3" ry="0.7" transform="rotate(-32 262.1 250.4)" fill="#e8143c" fill-opacity="0.46"/>
<ellipse cx="259.9" cy="242.8" rx="2.0" ry="0.9" transform="rotate(-18 259.9 242.8)" fill="#e8143c" fill-opacity="0.46"/>
<ellipse cx="281.0" cy="248.8" rx="2.2" ry="0.9" transform="rotate(-4 281.0 248.8)" fill="#e8143c" fill-opacity="0.34"/>
<ellipse cx="285.9" cy="256.9" rx="2.3" ry="0.8" transform="rotate(-16 285.9 256.9)" fill="#e8143c" fill-opacity="0.42"/>
<ellipse cx="267.9" cy="245.6" rx="2.0" ry="0.7" transform="rotate(2 267.9 245.6)" fill="#e8143c" fill-opacity="0.42"/>
<ellipse cx="238.2" cy="262.5" rx="2.5" ry="0.8" transform="rotate(-32 238.2 262.5)" fill="#e8143c" fill-opacity="0.46"/>
<ellipse cx="242.5" cy="251.7" rx="1.7" ry="0.8" transform="rotate(-22 242.5 251.7)" fill="#e8143c" fill-opacity="0.33"/>
<ellipse cx="256.1" cy="248.4" rx="2.4" ry="0.8" transform="rotate(-11 256.1 248.4)" fill="#e8143c" fill-opacity="0.33"/>
<ellipse cx="277.8" cy="252.7" rx="1.4" ry="0.7" transform="rotate(-11 277.8 252.7)" fill="#e8143c" fill-opacity="0.48"/>
<ellipse cx="261.2" cy="248.9" rx="2.3" ry="0.6" transform="rotate(-33 261.2 248.9)" fill="#e8143c" fill-opacity="0.41"/>
<ellipse cx="292.1" cy="247.6" rx="1.7" ry="0.7" transform="rotate(-13 292.1 247.6)" fill="#e8143c" fill-opacity="0.51"/>
</g>
</g>
<text x="178.9" y="205.7" font-family="Carlito, Calibri, 'Liberation Sans', sans-serif" font-size="12.75" fill="#f4f4f4" stroke="#f4f4f4" stroke-width="0.15" textLength="85.86" lengthAdjust="spacingAndGlyphs">WT+AngII 7 days</text>
<text x="178.7" y="339.1" font-family="Carlito, Calibri, 'Liberation Sans', sans-serif" font-size="15.6" fill="#f00000" stroke="#f00000" stroke-width="0.3" textLength="35.31" lengthAdjust="spacingAndGlyphs">Mac2</text>
<text x="217.0" y="339.1" font-family="Carlito, Calibri, 'Liberation Sans', sans-serif" font-size="15.6" fill="#2e75b6" stroke="#2e75b6" stroke-width="0.3" textLength="30.38" lengthAdjust="spacingAndGlyphs">DAPI</text>
<path d="M283.3 319.4H319.5M283.8 317.9v3M319.0 317.9v3" stroke="#c8c8c8" stroke-width="0.85" fill="none"/>
<rect x="299.4" y="321.4" width="4" height="1" fill="#666"/>
<g clip-path="url(#cp6)">
<rect x="328" y="192" width="150" height="150" fill="rgb(5,7,66)"/>
<rect x="328" y="192" width="150" height="150" filter="url(#nz6)"/>
<g transform="rotate(25 403.0 267.0)" opacity="0.6"><rect x="288" y="152" width="230" height="230" filter="url(#st6)"/></g>
<g filter="url(#db)" fill="none" stroke="#000" stroke-linecap="round">
<path d="M330 200 Q360 215 390 200" stroke-width="14" stroke-opacity="0.35"/>
<path d="M335 260 L345 240" stroke-width="10" stroke-opacity="0.3"/>
</g>
<g filter="url(#rb)">
<ellipse cx="454.0" cy="225.0" rx="1.4" ry="0.7" transform="rotate(-60 454.0 225.0)" fill="#e8143c" fill-opacity="0.59"/>
<ellipse cx="334.0" cy="230.0" rx="1.4" ry="0.7" transform="rotate(-60 334.0 230.0)" fill="#e8143c" fill-opacity="0.59"/>
<ellipse cx="346.0" cy="250.0" rx="1.4" ry="0.7" transform="rotate(-60 346.0 250.0)" fill="#e8143c" fill-opacity="0.59"/>
<ellipse cx="408.0" cy="292.0" rx="1.4" ry="0.7" transform="rotate(-60 408.0 292.0)" fill="#e8143c" fill-opacity="0.59"/>
<ellipse cx="401.0" cy="299.0" rx="1.4" ry="0.7" transform="rotate(-60 401.0 299.0)" fill="#e8143c" fill-opacity="0.59"/>
<ellipse cx="444.0" cy="297.0" rx="1.4" ry="0.7" transform="rotate(-60 444.0 297.0)" fill="#e8143c" fill-opacity="0.59"/>
<ellipse cx="356.0" cy="324.0" rx="1.4" ry="0.7" transform="rotate(-60 356.0 324.0)" fill="#e8143c" fill-opacity="0.59"/>
</g>
</g>
<text x="330.9" y="204.6" font-family="Carlito, Calibri, 'Liberation Sans', sans-serif" font-size="12.75" fill="#f4f4f4" stroke="#f4f4f4" stroke-width="0.15" textLength="112.88" lengthAdjust="spacingAndGlyphs">Nr4a1<tspan dy="-4.2" font-size="8.5">-/-</tspan><tspan dy="4.2">+Saline 7 days</tspan></text>
<text x="331.2" y="337.9" font-family="Carlito, Calibri, 'Liberation Sans', sans-serif" font-size="15.6" fill="#f00000" stroke="#f00000" stroke-width="0.3" textLength="35.31" lengthAdjust="spacingAndGlyphs">Mac2</text>
<text x="369.5" y="337.9" font-family="Carlito, Calibri, 'Liberation Sans', sans-serif" font-size="15.6" fill="#2e75b6" stroke="#2e75b6" stroke-width="0.3" textLength="30.38" lengthAdjust="spacingAndGlyphs">DAPI</text>
<path d="M438.4 325.0H474.6M438.9 323.5v3M474.1 323.5v3" stroke="#c8c8c8" stroke-width="0.85" fill="none"/>
<rect x="454.5" y="327.0" width="4" height="1" fill="#666"/>
<g clip-path="url(#cp7)">
<rect x="481" y="192" width="150" height="150" fill="rgb(8,8,56)"/>
<rect x="481" y="192" width="150" height="150" filter="url(#nz7)"/>
<g transform="rotate(35 556.0 267.0)" opacity="0.3"><rect x="441" y="152" width="230" height="230" filter="url(#st7)"/></g>
<g filter="url(#db)" fill="none" stroke="#000" stroke-linecap="round">
<path d="M524.4 207.5 Q515 214 508.8 218.6 Q509 228 508.8 236.4 Q507 248 505.5 258.6 Q503 272 501 285.2 Q498 298 495.5 309.6 Q493 322 491 342" stroke-width="4.5" stroke-opacity="0.8"/>
<path d="M481 212 Q495 210 508 219" stroke-width="3" stroke-opacity="0.85"/>
<path d="M524 252 Q530 248 536 250" stroke-width="2.5" stroke-opacity="0.7"/>
<path d="M481 200 Q500 205 525 195" stroke-width="10" stroke-opacity="0.4"/>
</g>
<g fill="none" stroke="#000" stroke-linecap="round">
<path d="M524.4 207.5 Q515 214 508.8 218.6 Q509 228 508.8 236.4 Q507 248 505.5 258.6 Q503 272 501 285.2 Q498 298 495.5 309.6 Q493 322 491 342" stroke-width="2.6" stroke-opacity="0.95"/>
<path d="M481 212 Q495 210 508 219" stroke-width="2.2" stroke-opacity="0.9"/>
</g>
<g filter="url(#rb)">
<ellipse cx="569.9" cy="210.9" rx="3.0" ry="0.8" transform="rotate(-70 569.9 210.9)" fill="#e8143c" fill-opacity="0.72"/>
<ellipse cx="573.2" cy="225.3" rx="3.0" ry="0.8" transform="rotate(-70 573.2 225.3)" fill="#e8143c" fill-opacity="0.72"/>
<ellipse cx="601.0" cy="230.8" rx="3.0" ry="0.8" transform="rotate(-70 601.0 230.8)" fill="#e8143c" fill-opacity="0.72"/>
<ellipse cx="608.7" cy="227.5" rx="3.0" ry="0.8" transform="rotate(-70 608.7 227.5)" fill="#e8143c" fill-opacity="0.72"/>
<ellipse cx="557.7" cy="246.4" rx="3.0" ry="0.8" transform="rotate(-70 557.7 246.4)" fill="#e8143c" fill-opacity="0.72"/>
<ellipse cx="569.9" cy="253.0" rx="3.0" ry="0.8" transform="rotate(-70 569.9 253.0)" fill="#e8143c" fill-opacity="0.72"/>
<ellipse cx="601.0" cy="263.0" rx="3.0" ry="0.8" transform="rotate(-70 601.0 263.0)" fill="#e8143c" fill-opacity="0.72"/>
<ellipse cx="545.5" cy="270.8" rx="3.0" ry="0.8" transform="rotate(-70 545.5 270.8)" fill="#e8143c" fill-opacity="0.72"/>
<ellipse cx="555.4" cy="280.7" rx="3.0" ry="0.8" transform="rotate(-70 555.4 280.7)" fill="#e8143c" fill-opacity="0.72"/>
<ellipse cx="551.0" cy="295.2" rx="3.0" ry="0.8" transform="rotate(-70 551.0 295.2)" fill="#e8143c" fill-opacity="0.72"/>
<ellipse cx="558.8" cy="294.0" rx="3.0" ry="0.8" transform="rotate(-70 558.8 294.0)" fill="#e8143c" fill-opacity="0.72"/>
<ellipse cx="568.8" cy="260.8" rx="3.0" ry="0.8" transform="rotate(-70 568.8 260.8)" fill="#e8143c" fill-opacity="0.72"/>
<ellipse cx="598.7" cy="205.3" rx="3.0" ry="0.8" transform="rotate(-70 598.7 205.3)" fill="#e8143c" fill-opacity="0.72"/>
<ellipse cx="573.0" cy="283.0" rx="3.0" ry="0.8" transform="rotate(-70 573.0 283.0)" fill="#e8143c" fill-opacity="0.72"/>
<ellipse cx="563.0" cy="296.3" rx="3.0" ry="0.8" transform="rotate(-70 563.0 296.3)" fill="#e8143c" fill-opacity="0.72"/>
<ellipse cx="575.0" cy="218.0" rx="3.0" ry="0.8" transform="rotate(-70 575.0 218.0)" fill="#e8143c" fill-opacity="0.72"/>
<ellipse cx="604.0" cy="268.0" rx="3.0" ry="0.8" transform="rotate(-70 604.0 268.0)" fill="#e8143c" fill-opacity="0.72"/>
<ellipse cx="547.0" cy="283.0" rx="3.0" ry="0.8" transform="rotate(-70 547.0 283.0)" fill="#e8143c" fill-opacity="0.72"/>
<ellipse cx="581.7" cy="325.9" rx="1.4" ry="0.9" transform="rotate(-64 581.7 325.9)" fill="#e8143c" fill-opacity="0.51"/>
<ellipse cx="581.9" cy="265.1" rx="1.8" ry="0.8" transform="rotate(-56 581.9 265.1)" fill="#e8143c" fill-opacity="0.38"/>
<ellipse cx="587.0" cy="304.3" rx="1.3" ry="0.7" transform="rotate(-62 587.0 304.3)" fill="#e8143c" fill-opacity="0.36"/>
<ellipse cx="576.8" cy="277.3" rx="1.4" ry="0.7" transform="rotate(-76 576.8 277.3)" fill="#e8143c" fill-opacity="0.51"/>
<ellipse cx="598.1" cy="270.0" rx="1.7" ry="0.9" transform="rotate(-78 598.1 270.0)" fill="#e8143c" fill-opacity="0.38"/>
<ellipse cx="598.4" cy="219.5" rx="2.0" ry="0.7" transform="rotate(-87 598.4 219.5)" fill="#e8143c" fill-opacity="0.27"/>
<ellipse cx="594.7" cy="244.2" rx="1.5" ry="1.0" transform="rotate(-84 594.7 244.2)" fill="#e8143c" fill-opacity="0.48"/>
<ellipse cx="561.2" cy="249.2" rx="2.4" ry="0.7" transform="rotate(-61 561.2 249.2)" fill="#e8143c" fill-opacity="0.45"/>
<ellipse cx="597.5" cy="279.7" rx="2.2" ry="1.0" transform="rotate(-63 597.5 279.7)" fill="#e8143c" fill-opacity="0.31"/>
<ellipse cx="557.3" cy="275.2" rx="1.9" ry="0.6" transform="rotate(-60 557.3 275.2)" fill="#e8143c" fill-opacity="0.49"/>
</g>
</g>
<text x="484.1" y="204.6" font-family="Carlito, Calibri, 'Liberation Sans', sans-serif" font-size="12.75" fill="#f4f4f4" stroke="#f4f4f4" stroke-width="0.15" textLength="108.52" lengthAdjust="spacingAndGlyphs">Nr4a1<tspan dy="-4.2" font-size="8.5">-/-</tspan><tspan dy="4.2">+AngII 7 days</tspan></text>
<text x="484.2" y="337.1" font-family="Carlito, Calibri, 'Liberation Sans', sans-serif" font-size="15.6" fill="#f00000" stroke="#f00000" stroke-width="0.3" textLength="35.31" lengthAdjust="spacingAndGlyphs">Mac2</text>
<text x="522.5" y="337.1" font-family="Carlito, Calibri, 'Liberation Sans', sans-serif" font-size="15.6" fill="#2e75b6" stroke="#2e75b6" stroke-width="0.3" textLength="30.38" lengthAdjust="spacingAndGlyphs">DAPI</text>
<path d="M590 319.4H625.7M590.5 317.9v3M625.2 317.9v3" stroke="#c8c8c8" stroke-width="0.85" fill="none"/>
<rect x="605.85" y="321.4" width="4" height="1" fill="#666"/>
<text x="-0.9" y="16.3" font-family="Carlito, Calibri, 'Liberation Sans', sans-serif" font-weight="700" font-size="26">A</text>
<text x="0.0" y="191.9" font-family="Carlito, Calibri, 'Liberation Sans', sans-serif" font-weight="700" font-size="25">B</text>
<text x="2.6" y="384.3" font-family="Carlito, Calibri, 'Liberation Sans', sans-serif" font-weight="700" font-size="25">C</text>
<text x="352.5" y="384.8" font-family="Carlito, Calibri, 'Liberation Sans', sans-serif" font-weight="700" font-size="25">D</text>
<text x="8.6" y="715.0" font-family="Carlito, Calibri, 'Liberation Sans', sans-serif" font-weight="700" font-size="25">E</text>
<text x="362.7" y="716.1" font-family="Carlito, Calibri, 'Liberation Sans', sans-serif" font-weight="700" font-size="25">F</text>
<path d="M74.6 395.9V551.5" stroke="#000" stroke-width="1.7" fill="none"/>
<path d="M67.8 550.6H74.6" stroke="#000" stroke-width="1.7"/>
<text x="65.5" y="554.9" font-family="'Liberation Sans', Arial, sans-serif" font-weight="700" font-size="12" text-anchor="end" stroke="#000" stroke-width="0.3">0</text>
<path d="M67.8 512.1H74.6" stroke="#000" stroke-width="1.7"/>
<text x="65.5" y="516.5" font-family="'Liberation Sans', Arial, sans-serif" font-weight="700" font-size="12" text-anchor="end" stroke="#000" stroke-width="0.3">100</text>
<path d="M67.8 473.7H74.6" stroke="#000" stroke-width="1.7"/>
<text x="65.5" y="478.0" font-family="'Liberation Sans', Arial, sans-serif" font-weight="700" font-size="12" text-anchor="end" stroke="#000" stroke-width="0.3">200</text>
<path d="M67.8 435.2H74.6" stroke="#000" stroke-width="1.7"/>
<text x="65.5" y="439.6" font-family="'Liberation Sans', Arial, sans-serif" font-weight="700" font-size="12" text-anchor="end" stroke="#000" stroke-width="0.3">300</text>
<path d="M67.8 396.8H74.6" stroke="#000" stroke-width="1.7"/>
<text x="65.5" y="401.1" font-family="'Liberation Sans', Arial, sans-serif" font-weight="700" font-size="12" text-anchor="end" stroke="#000" stroke-width="0.3">400</text>
<path d="M74.6 550.6H305.6" stroke="#000" stroke-width="1.7" fill="none"/>
<path d="M91.7 550.6V557.1" stroke="#000" stroke-width="1.7"/>
<path d="M118.9 550.6V557.1" stroke="#000" stroke-width="1.7"/>
<path d="M145.8 550.6V557.1" stroke="#000" stroke-width="1.7"/>
<path d="M172.0 550.6V557.1" stroke="#000" stroke-width="1.7"/>
<path d="M206.6 550.6V557.1" stroke="#000" stroke-width="1.7"/>
<path d="M233.7 550.6V557.1" stroke="#000" stroke-width="1.7"/>
<path d="M260.1 550.6V557.1" stroke="#000" stroke-width="1.7"/>
<path d="M286.7 550.6V557.1" stroke="#000" stroke-width="1.7"/>
<text x="18.6" y="473.0" font-family="'Liberation Sans', Arial, sans-serif" font-weight="700" font-size="12.3" text-anchor="middle" transform="rotate(-90 18.6 473.0)" stroke="#000" stroke-width="0.3">Macrophage Number</text>
<text x="33.8" y="473.4" font-family="'Liberation Sans', Arial, sans-serif" font-weight="700" font-size="12.3" text-anchor="middle" transform="rotate(-90 33.8 473.4)" stroke="#000" stroke-width="0.3">(Average/Field)</text>
<circle cx="88.0" cy="545.0" r="3.15" fill="#000"/>
<circle cx="92.0" cy="542.0" r="3.15" fill="#000"/>
<circle cx="95.5" cy="545.0" r="3.15" fill="#000"/>
<circle cx="86.5" cy="549.0" r="3.15" fill="#000"/>
<circle cx="90.0" cy="549.0" r="3.15" fill="#000"/>
<circle cx="93.5" cy="549.0" r="3.15" fill="#000"/>
<circle cx="97.5" cy="549.0" r="3.15" fill="#000"/>
<circle cx="99.0" cy="547.0" r="3.15" fill="#000"/>
<circle cx="84.5" cy="547.0" r="3.15" fill="#000"/>
<circle cx="91.7" cy="550.0" r="3.15" fill="#000"/>
<rect x="111.0" y="527.1" width="15.8" height="23.5" fill="#000" stroke="#000" stroke-width="1.7"/>
<rect x="113" y="531" width="2" height="1" fill="#1010ff"/>
<rect x="117" y="533" width="3" height="1" fill="#1010ff"/>
<rect x="121" y="530" width="1.2" height="2.5" fill="#1010ff"/>
<rect x="114" y="538" width="3" height="1.2" fill="#1010ff"/>
<rect x="121" y="540" width="1.5" height="3" fill="#1010ff"/>
<rect x="116" y="545" width="2" height="1.2" fill="#1010ff"/>
<rect x="120" y="547" width="3" height="1.3" fill="#1010ff"/>
<rect x="112" y="544" width="1" height="2" fill="#1010ff"/>
<rect x="123" y="535" width="1.5" height="1" fill="#1010ff"/>
<rect x="118" y="541" width="1" height="2" fill="#1010ff"/>
<path d="M118.9 526.2V520.6M114.9 520.6H122.9" stroke="#000" stroke-width="1.6" fill="none"/>
<rect x="115.9" y="482.2" width="6.0" height="6.0" fill="#000"/>
<rect x="115.9" y="487.4" width="6.0" height="6.0" fill="#000"/>
<rect x="112.6" y="505.8" width="6.0" height="6.0" fill="#000"/>
<rect x="118.3" y="502.7" width="6.0" height="6.0" fill="#000"/>
<rect x="137.9" y="547.4" width="15.8" height="3.3" fill="#000" stroke="#000" stroke-width="1.7"/>
<path d="M145.8 535.6L149.4 542.4H142.2Z" fill="#000"/>
<path d="M141.0 542.1L144.6 548.9H137.4Z" fill="#000"/>
<path d="M145.0 542.1L148.6 548.9H141.4Z" fill="#000"/>
<path d="M149.0 543.1L152.6 549.9H145.4Z" fill="#000"/>
<path d="M152.0 544.1L155.6 550.9H148.4Z" fill="#000"/>
<path d="M139.0 544.6L142.6 551.4H135.4Z" fill="#000"/>
<rect x="164.1" y="490.2" width="15.8" height="60.5" fill="url(#hR)" stroke="#000" stroke-width="1.7"/>
<path d="M172.0 489.3V479.0M168.0 479.0H176.0" stroke="#000" stroke-width="1.6" fill="none"/>
<path d="M172.0 442.1L175.6 435.3H168.4Z" fill="#000"/>
<path d="M172.0 460.5L175.6 453.7H168.4Z" fill="#000"/>
<path d="M177.9 472.2L181.5 465.4H174.3Z" fill="#000"/>
<path d="M165.9 477.5L169.5 470.7H162.3Z" fill="#000"/>
<path d="M172.0 484.4L175.6 477.6H168.4Z" fill="#000"/>
<path d="M167.0 496.9L170.6 490.1H163.4Z" fill="#000"/>
<path d="M177.0 498.9L180.6 492.1H173.4Z" fill="#000"/>
<path d="M170.0 503.9L173.6 497.1H166.4Z" fill="#000"/>
<path d="M173.0 513.9L176.6 507.1H169.4Z" fill="#000"/>
<path d="M172.0 533.9L175.6 527.1H168.4Z" fill="#000"/>
<path d="M172.0 552.9L175.6 546.1H168.4Z" fill="#000"/>
<circle cx="200.5" cy="548.5" r="3.15" fill="#000"/>
<circle cx="204.0" cy="547.0" r="3.15" fill="#000"/>
<circle cx="207.5" cy="548.0" r="3.15" fill="#000"/>
<circle cx="211.0" cy="549.0" r="3.15" fill="#000"/>
<circle cx="213.0" cy="548.0" r="3.15" fill="#000"/>
<circle cx="203.0" cy="550.0" r="3.15" fill="#000"/>
<circle cx="209.0" cy="550.5" r="3.15" fill="#000"/>
<rect x="225.8" y="518.6" width="15.8" height="32.0" fill="url(#hB)" stroke="#000" stroke-width="1.7"/>
<path d="M233.7 517.8V512.5M229.7 512.5H237.7" stroke="#000" stroke-width="1.6" fill="none"/>
<rect x="231.4" y="477.8" width="6.0" height="6.0" fill="#000"/>
<rect x="225.3" y="480.8" width="6.0" height="6.0" fill="#000"/>
<rect x="237.3" y="484.6" width="6.0" height="6.0" fill="#000"/>
<rect x="228.7" y="494.0" width="6.0" height="6.0" fill="#000"/>
<rect x="234.7" y="497.0" width="6.0" height="6.0" fill="#000"/>
<rect x="231.4" y="507.1" width="6.0" height="6.0" fill="#000"/>
<rect x="225.3" y="511.4" width="6.0" height="6.0" fill="#000"/>
<rect x="237.8" y="512.4" width="6.0" height="6.0" fill="#000"/>
<rect x="226.0" y="528.0" width="6.0" height="6.0" fill="#000"/>
<rect x="233.0" y="535.0" width="6.0" height="6.0" fill="#000"/>
<rect x="227.0" y="542.0" width="6.0" height="6.0" fill="#000"/>
<rect x="236.0" y="545.0" width="6.0" height="6.0" fill="#000"/>
<rect x="230" y="514" width="8" height="3" fill="#fff"/>
<rect x="252.2" y="545.9" width="15.8" height="4.8" fill="#000" stroke="#000" stroke-width="1.7"/>
<path d="M260.1 534.6L264.1 542.3H256.1Z" fill="#000"/>
<rect x="278.8" y="516.9" width="15.8" height="33.8" fill="url(#hR)" stroke="#000" stroke-width="1.7"/>
<path d="M286.7 516.0V510.0M282.7 510.0H290.7" stroke="#000" stroke-width="1.6" fill="none"/>
<path d="M286.7 466.9L290.3 460.1H283.1Z" fill="#000"/>
<path d="M283.0 497.9L286.6 491.1H279.4Z" fill="#000"/>
<path d="M289.5 497.9L293.1 491.1H285.9Z" fill="#000"/>
<path d="M286.7 503.9L290.3 497.1H283.1Z" fill="#000"/>
<path d="M281.0 513.9L284.6 507.1H277.4Z" fill="#000"/>
<path d="M286.0 513.9L289.6 507.1H282.4Z" fill="#000"/>
<path d="M291.0 514.4L294.6 507.6H287.4Z" fill="#000"/>
<path d="M284.0 525.9L287.6 519.1H280.4Z" fill="#000"/>
<path d="M288.0 543.9L291.6 537.1H284.4Z" fill="#000"/>
<path d="M95.0 454.2V463.4M95.0 458.8H114.6M114.6 454.2V463.4" stroke="#000" stroke-width="1.8" fill="none"/><text x="105.0" y="460.5" font-family="'Liberation Sans', Arial, sans-serif" font-weight="700" font-size="16" text-anchor="middle" stroke="#000" stroke-width="0.3">*</text>
<path d="M118.0 398.7V409.1M118.0 403.9H166.4M166.4 398.7V409.1" stroke="#000" stroke-width="1.8" fill="none"/><text x="143.0" y="405.5" font-family="'Liberation Sans', Arial, sans-serif" font-weight="700" font-size="16" text-anchor="middle" stroke="#000" stroke-width="0.3">***</text>
<path d="M147.6 420.8V430.6M147.6 425.7H166.4M166.4 420.8V430.6" stroke="#000" stroke-width="1.8" fill="none"/><text x="157.8" y="423.6" font-family="'Liberation Sans', Arial, sans-serif" font-weight="700" font-size="16" text-anchor="middle" stroke="#000" stroke-width="0.3">****</text>
<path d="M209.6 441.0V450.6M209.6 445.8H234.8M234.8 441.0V450.6" stroke="#000" stroke-width="1.8" fill="none"/><text x="221.2" y="444.8" font-family="'Liberation Sans', Arial, sans-serif" font-weight="700" font-size="16" text-anchor="middle" stroke="#000" stroke-width="0.3">***</text>
<path d="M258.3 441.0V450.6M258.3 445.8H283.2M283.2 441.0V450.6" stroke="#000" stroke-width="1.8" fill="none"/><text x="269.9" y="444.8" font-family="'Liberation Sans', Arial, sans-serif" font-weight="700" font-size="16" text-anchor="middle" stroke="#000" stroke-width="0.3">***</text>
<text x="96.1" y="567.6" font-family="'Liberation Sans', Arial, sans-serif" font-weight="700" font-size="12.2" text-anchor="end" transform="rotate(-45 96.1 567.6)" stroke="#000" stroke-width="0.3">WT+Saline</text>
<text x="123.3" y="567.6" font-family="'Liberation Sans', Arial, sans-serif" font-weight="700" font-size="12.2" text-anchor="end" transform="rotate(-45 123.3 567.6)" stroke="#000" stroke-width="0.3">WT+Ang II</text>
<text x="150.2" y="567.6" font-family="'Liberation Sans', Arial, sans-serif" font-weight="700" font-size="12.2" text-anchor="end" transform="rotate(-45 150.2 567.6)" stroke="#000" stroke-width="0.3">Nr4a1<tspan dy="-4.3" font-size="7.3">-/-</tspan><tspan dy="4.3">+Saline</tspan></text>
<text x="176.4" y="567.6" font-family="'Liberation Sans', Arial, sans-serif" font-weight="700" font-size="12.2" text-anchor="end" transform="rotate(-45 176.4 567.6)" stroke="#000" stroke-width="0.3">Nr4a1<tspan dy="-4.3" font-size="7.3">-/-</tspan><tspan dy="4.3">+Ang II</tspan></text>
<text x="211.0" y="567.6" font-family="'Liberation Sans', Arial, sans-serif" font-weight="700" font-size="12.2" text-anchor="end" transform="rotate(-45 211.0 567.6)" stroke="#000" stroke-width="0.3">WT+Saline</text>
<text x="238.1" y="567.6" font-family="'Liberation Sans', Arial, sans-serif" font-weight="700" font-size="12.2" text-anchor="end" transform="rotate(-45 238.1 567.6)" stroke="#000" stroke-width="0.3">WT+Ang II</text>
<text x="264.5" y="567.6" font-family="'Liberation Sans', Arial, sans-serif" font-weight="700" font-size="12.2" text-anchor="end" transform="rotate(-45 264.5 567.6)" stroke="#000" stroke-width="0.3">Nr4a1<tspan dy="-4.3" font-size="7.3">-/-</tspan><tspan dy="4.3">+Saline</tspan></text>
<text x="291.1" y="567.6" font-family="'Liberation Sans', Arial, sans-serif" font-weight="700" font-size="12.2" text-anchor="end" transform="rotate(-45 291.1 567.6)" stroke="#000" stroke-width="0.3">Nr4a1<tspan dy="-4.3" font-size="7.3">-/-</tspan><tspan dy="4.3">+Ang II</tspan></text>
<path d="M45 641.5H146M161.5 641.5H263" stroke="#000" stroke-width="2.3"/>
<text x="97.0" y="659.8" font-family="'Liberation Sans', Arial, sans-serif" font-weight="700" font-size="12.2" text-anchor="middle" stroke="#000" stroke-width="0.3">3 days</text>
<text x="212.0" y="659.8" font-family="'Liberation Sans', Arial, sans-serif" font-weight="700" font-size="12.2" text-anchor="middle" stroke="#000" stroke-width="0.3">7 days</text>
<path d="M450.4 395.9V554.0" stroke="#000" stroke-width="1.7" fill="none"/>
<path d="M444.1 553.1H450.4" stroke="#000" stroke-width="1.7"/>
<text x="441.9" y="557.4" font-family="'Liberation Sans', Arial, sans-serif" font-weight="700" font-size="12" text-anchor="end" stroke="#000" stroke-width="0.3">0.000</text>
<path d="M444.1 501.0H450.4" stroke="#000" stroke-width="1.7"/>
<text x="441.9" y="505.3" font-family="'Liberation Sans', Arial, sans-serif" font-weight="700" font-size="12" text-anchor="end" stroke="#000" stroke-width="0.3">0.005</text>
<path d="M444.1 448.9H450.4" stroke="#000" stroke-width="1.7"/>
<text x="441.9" y="453.2" font-family="'Liberation Sans', Arial, sans-serif" font-weight="700" font-size="12" text-anchor="end" stroke="#000" stroke-width="0.3">0.010</text>
<path d="M444.1 396.8H450.4" stroke="#000" stroke-width="1.7"/>
<text x="441.9" y="401.1" font-family="'Liberation Sans', Arial, sans-serif" font-weight="700" font-size="12" text-anchor="end" stroke="#000" stroke-width="0.3">0.015</text>
<path d="M450.4 553.1H685.0" stroke="#000" stroke-width="1.7" fill="none"/>
<path d="M468.4 553.1V559.6" stroke="#000" stroke-width="1.7"/>
<path d="M495.4 553.1V559.6" stroke="#000" stroke-width="1.7"/>
<path d="M522.2 553.1V559.6" stroke="#000" stroke-width="1.7"/>
<path d="M549.2 553.1V559.6" stroke="#000" stroke-width="1.7"/>
<path d="M585.5 553.1V559.6" stroke="#000" stroke-width="1.7"/>
<path d="M612.2 553.1V559.6" stroke="#000" stroke-width="1.7"/>
<path d="M639.6 553.1V559.6" stroke="#000" stroke-width="1.7"/>
<path d="M666.5 553.1V559.6" stroke="#000" stroke-width="1.7"/>
<text x="377.4" y="474.2" font-family="'Liberation Sans', Arial, sans-serif" font-weight="700" font-size="19.6" text-anchor="middle" transform="rotate(-90 377.4 474.2)" stroke="#000" stroke-width="0.3">CCL2</text>
<text x="399.4" y="474.5" font-family="'Liberation Sans', Arial, sans-serif" font-weight="700" font-size="19.3" text-anchor="middle" transform="rotate(-90 399.4 474.5)" stroke="#000" stroke-width="0.3">(pg/<tspan font-family="'Liberation Serif', serif" font-weight="400">&#956;</tspan>g protein)</text>
<rect x="460.8" y="516.0" width="15.3" height="37.1" fill="#0a46ff" stroke="#000" stroke-width="2.0"/>
<path d="M468.4 515.0V506.2M463.9 506.2H472.9M468.4 515.0V522.7M463.9 522.7H472.9" stroke="#000" stroke-width="1.2" fill="none"/>
<rect x="487.8" y="485.1" width="15.3" height="68.0" fill="url(#hB)" stroke="#000" stroke-width="2.0"/>
<path d="M495.4 484.1V461.4M490.9 461.4H499.9" stroke="#000" stroke-width="1.2" fill="none"/>
<rect x="514.6" y="531.6" width="15.3" height="21.5" fill="#ff2a00" stroke="#000" stroke-width="2.0"/>
<path d="M522.2 530.6V521.3M517.7 521.3H526.7M522.2 530.6V540.0M517.7 540.0H526.7" stroke="#000" stroke-width="1.2" fill="none"/>
<rect x="541.6" y="506.3" width="15.3" height="46.8" fill="url(#hR)" stroke="#000" stroke-width="2.0"/>
<path d="M549.2 505.3V493.3M544.7 493.3H553.7" stroke="#000" stroke-width="1.2" fill="none"/>
<rect x="577.9" y="516.2" width="15.3" height="36.9" fill="#0a46ff" stroke="#000" stroke-width="2.0"/>
<path d="M585.5 515.2V499.7M581.0 499.7H590.0" stroke="#000" stroke-width="1.2" fill="none"/>
<rect x="604.6" y="517.1" width="15.3" height="36.0" fill="url(#hB)" stroke="#000" stroke-width="2.0"/>
<path d="M612.2 516.1V503.0M607.7 503.0H616.7" stroke="#000" stroke-width="1.2" fill="none"/>
<rect x="632.0" y="527.2" width="15.3" height="25.9" fill="#ff2a00" stroke="#000" stroke-width="2.0"/>
<path d="M639.6 526.2V514.3M635.1 514.3H644.1" stroke="#000" stroke-width="1.2" fill="none"/>
<rect x="658.9" y="506.2" width="15.3" height="46.9" fill="url(#hR)" stroke="#000" stroke-width="2.0"/>
<path d="M666.5 505.2V491.1M662.0 491.1H671.0" stroke="#000" stroke-width="1.2" fill="none"/>
<circle cx="468.4" cy="487.0" r="2.94" fill="#000"/>
<circle cx="468.4" cy="498.5" r="2.94" fill="#000"/>
<circle cx="463.5" cy="518.0" r="2.94" fill="#000"/>
<circle cx="474.5" cy="516.0" r="2.94" fill="#000"/>
<circle cx="468.4" cy="546.0" r="2.94" fill="#000"/>
<rect x="492.5" y="408.8" width="5.6" height="5.6" fill="#000"/>
<rect x="492.5" y="420.5" width="5.6" height="5.6" fill="#000"/>
<rect x="488.2" y="496.2" width="5.6" height="5.6" fill="#000"/>
<rect x="492.6" y="513.2" width="5.6" height="5.6" fill="#000"/>
<rect x="492.6" y="550.2" width="5.6" height="5.6" fill="#000"/>
<path d="M522.2 493.5L525.4 499.6H519.0Z" fill="#000"/>
<path d="M516.5 516.0L519.7 522.1H513.3Z" fill="#000"/>
<path d="M528.5 520.5L531.7 526.6H525.3Z" fill="#000"/>
<path d="M519.0 541.5L522.2 547.6H515.8Z" fill="#000"/>
<path d="M526.0 541.5L529.2 547.6H522.8Z" fill="#000"/>
<path d="M522.2 549.5L525.4 555.6H519.0Z" fill="#000"/>
<path d="M549.5 478.2L552.7 472.1H546.3Z" fill="#000"/>
<path d="M549.5 493.5L552.7 487.4H546.3Z" fill="#000"/>
<path d="M549.5 516.5L552.7 510.4H546.3Z" fill="#000"/>
<path d="M549.5 545.5L552.7 539.4H546.3Z" fill="#000"/>
<circle cx="585.5" cy="453.5" r="2.94" fill="#000"/>
<circle cx="585.5" cy="460.3" r="2.94" fill="#000"/>
<circle cx="580.5" cy="530.5" r="2.94" fill="#000"/>
<circle cx="590.5" cy="530.5" r="2.94" fill="#000"/>
<circle cx="585.5" cy="543.0" r="2.94" fill="#000"/>
<circle cx="585.5" cy="549.0" r="2.94" fill="#000"/>
<rect x="609.5" y="473.5" width="5.6" height="5.6" fill="#000"/>
<rect x="609.5" y="500.2" width="5.6" height="5.6" fill="#000"/>
<rect x="609.5" y="509.2" width="5.6" height="5.6" fill="#000"/>
<rect x="609.5" y="526.2" width="5.6" height="5.6" fill="#000"/>
<rect x="609.5" y="550.2" width="5.6" height="5.6" fill="#000"/>
<path d="M638.7 446.2L641.9 452.3H635.5Z" fill="#000"/>
<path d="M639.6 514.5L642.8 520.6H636.4Z" fill="#000"/>
<path d="M636.5 535.0L639.7 541.1H633.3Z" fill="#000"/>
<path d="M642.5 538.5L645.7 544.6H639.3Z" fill="#000"/>
<path d="M639.6 549.5L642.8 555.6H636.4Z" fill="#000"/>
<path d="M666.1 411.3L669.3 405.2H662.9Z" fill="#000"/>
<path d="M666.1 470.7L669.3 464.6H662.9Z" fill="#000"/>
<path d="M666.1 477.5L669.3 471.4H662.9Z" fill="#000"/>
<path d="M659.0 508.5L662.2 502.4H655.8Z" fill="#000"/>
<path d="M671.0 529.5L674.2 523.4H667.8Z" fill="#000"/>
<path d="M666.0 546.5L669.2 540.4H662.8Z" fill="#000"/>
<text x="469.8" y="572.5" font-family="'Liberation Sans', Arial, sans-serif" font-weight="700" font-size="12.2" text-anchor="end" transform="rotate(-45 469.8 572.5)" stroke="#000" stroke-width="0.3">WT+Saline</text>
<text x="496.8" y="572.5" font-family="'Liberation Sans', Arial, sans-serif" font-weight="700" font-size="12.2" text-anchor="end" transform="rotate(-45 496.8 572.5)" stroke="#000" stroke-width="0.3">WT+Ang II</text>
<text x="523.6" y="572.5" font-family="'Liberation Sans', Arial, sans-serif" font-weight="700" font-size="12.2" text-anchor="end" transform="rotate(-45 523.6 572.5)" stroke="#000" stroke-width="0.3">Nr4a1<tspan dy="-4.3" font-size="7.3">-/-</tspan><tspan dy="4.3">+Saline</tspan></text>
<text x="550.6" y="572.5" font-family="'Liberation Sans', Arial, sans-serif" font-weight="700" font-size="12.2" text-anchor="end" transform="rotate(-45 550.6 572.5)" stroke="#000" stroke-width="0.3">Nr4a1<tspan dy="-4.3" font-size="7.3">-/-</tspan><tspan dy="4.3">+Ang II</tspan></text>
<text x="586.9" y="572.5" font-family="'Liberation Sans', Arial, sans-serif" font-weight="700" font-size="12.2" text-anchor="end" transform="rotate(-45 586.9 572.5)" stroke="#000" stroke-width="0.3">WT+Saline</text>
<text x="613.6" y="572.5" font-family="'Liberation Sans', Arial, sans-serif" font-weight="700" font-size="12.2" text-anchor="end" transform="rotate(-45 613.6 572.5)" stroke="#000" stroke-width="0.3">WT+Ang II</text>
<text x="641.0" y="572.5" font-family="'Liberation Sans', Arial, sans-serif" font-weight="700" font-size="12.2" text-anchor="end" transform="rotate(-45 641.0 572.5)" stroke="#000" stroke-width="0.3">Nr4a1<tspan dy="-4.3" font-size="7.3">-/-</tspan><tspan dy="4.3">+Saline</tspan></text>
<text x="667.9" y="572.5" font-family="'Liberation Sans', Arial, sans-serif" font-weight="700" font-size="12.2" text-anchor="end" transform="rotate(-45 667.9 572.5)" stroke="#000" stroke-width="0.3">Nr4a1<tspan dy="-4.3" font-size="7.3">-/-</tspan><tspan dy="4.3">+Ang II</tspan></text>
<path d="M416.8 644H518.5M535 644H636.6" stroke="#000" stroke-width="2.3"/>
<text x="469.0" y="662.4" font-family="'Liberation Sans', Arial, sans-serif" font-weight="700" font-size="12.5" text-anchor="middle" stroke="#000" stroke-width="0.3">3 days</text>
<text x="585.5" y="662.4" font-family="'Liberation Sans', Arial, sans-serif" font-weight="700" font-size="12.5" text-anchor="middle" stroke="#000" stroke-width="0.3">7 days</text>
<path d="M93.1 723.5V887.4" stroke="#000" stroke-width="1.7" fill="none"/>
<path d="M86.3 886.5H93.1" stroke="#000" stroke-width="1.7"/>
<text x="84.3" y="891.1" font-family="'Liberation Sans', Arial, sans-serif" font-weight="700" font-size="12.7" text-anchor="end" stroke="#000" stroke-width="0.3">0.0</text>
<path d="M86.3 854.1H93.1" stroke="#000" stroke-width="1.7"/>
<text x="84.3" y="858.7" font-family="'Liberation Sans', Arial, sans-serif" font-weight="700" font-size="12.7" text-anchor="end" stroke="#000" stroke-width="0.3">0.2</text>
<path d="M86.3 821.7H93.1" stroke="#000" stroke-width="1.7"/>
<text x="84.3" y="826.2" font-family="'Liberation Sans', Arial, sans-serif" font-weight="700" font-size="12.7" text-anchor="end" stroke="#000" stroke-width="0.3">0.4</text>
<path d="M86.3 789.2H93.1" stroke="#000" stroke-width="1.7"/>
<text x="84.3" y="793.8" font-family="'Liberation Sans', Arial, sans-serif" font-weight="700" font-size="12.7" text-anchor="end" stroke="#000" stroke-width="0.3">0.6</text>
<path d="M86.3 756.8H93.1" stroke="#000" stroke-width="1.7"/>
<text x="84.3" y="761.4" font-family="'Liberation Sans', Arial, sans-serif" font-weight="700" font-size="12.7" text-anchor="end" stroke="#000" stroke-width="0.3">0.8</text>
<path d="M86.3 724.4H93.1" stroke="#000" stroke-width="1.7"/>
<text x="84.3" y="729.0" font-family="'Liberation Sans', Arial, sans-serif" font-weight="700" font-size="12.7" text-anchor="end" stroke="#000" stroke-width="0.3">1.0</text>
<path d="M93.1 886.5H336.0" stroke="#000" stroke-width="1.7" fill="none"/>
<path d="M112.0 886.5V893.0" stroke="#000" stroke-width="1.7"/>
<path d="M139.5 886.5V893.0" stroke="#000" stroke-width="1.7"/>
<path d="M167.2 886.5V893.0" stroke="#000" stroke-width="1.7"/>
<path d="M195.3 886.5V893.0" stroke="#000" stroke-width="1.7"/>
<path d="M232.8 886.5V893.0" stroke="#000" stroke-width="1.7"/>
<path d="M260.3 886.5V893.0" stroke="#000" stroke-width="1.7"/>
<path d="M288.2 886.5V893.0" stroke="#000" stroke-width="1.7"/>
<path d="M316.0 886.5V893.0" stroke="#000" stroke-width="1.7"/>
<text x="29.3" y="806.3" font-family="'Liberation Sans', Arial, sans-serif" font-weight="700" font-size="20.8" text-anchor="middle" transform="rotate(-90 29.3 806.3)" stroke="#000" stroke-width="0.3">CCR2</text>
<text x="53.4" y="806.3" font-family="'Liberation Sans', Arial, sans-serif" font-weight="700" font-size="19.6" text-anchor="middle" transform="rotate(-90 53.4 806.3)" stroke="#000" stroke-width="0.3">(pg/<tspan font-family="'Liberation Serif', serif" font-weight="400">&#956;</tspan>g protein)</text>
<rect x="104.0" y="795.3" width="16.0" height="91.2" fill="#0a46ff" stroke="#000" stroke-width="2.0"/>
<path d="M112.0 794.3V782.0M107.5 782.0H116.5M112.0 794.3V806.5M107.5 806.5H116.5" stroke="#000" stroke-width="1.2" fill="none"/>
<rect x="131.5" y="800.6" width="16.0" height="85.9" fill="url(#hB)" stroke="#000" stroke-width="2.0"/>
<path d="M139.5 799.6V786.2M135.0 786.2H144.0" stroke="#000" stroke-width="1.2" fill="none"/>
<rect x="159.2" y="814.0" width="16.0" height="72.5" fill="#ff2a00" stroke="#000" stroke-width="2.0"/>
<path d="M167.2 813.0V800.4M162.7 800.4H171.7M167.2 813.0V826.0M162.7 826.0H171.7" stroke="#000" stroke-width="1.2" fill="none"/>
<rect x="187.3" y="825.2" width="16.0" height="61.3" fill="url(#hR)" stroke="#000" stroke-width="2.0"/>
<path d="M195.3 824.2V817.6M190.8 817.6H199.8M195.3 824.2V830.0M190.8 830.0H199.8" stroke="#000" stroke-width="1.2" fill="none"/>
<rect x="224.8" y="830.3" width="16.0" height="56.2" fill="#0a46ff" stroke="#000" stroke-width="2.0"/>
<path d="M232.8 829.3V812.4M228.3 812.4H237.3M232.8 829.3V846.0M228.3 846.0H237.3" stroke="#000" stroke-width="1.2" fill="none"/>
<rect x="252.3" y="853.3" width="16.0" height="33.2" fill="url(#hB)" stroke="#000" stroke-width="2.0"/>
<path d="M260.3 852.3V850.0M255.8 850.0H264.8" stroke="#000" stroke-width="1.2" fill="none"/>
<rect x="280.2" y="854.3" width="16.0" height="32.2" fill="#ff2a00" stroke="#000" stroke-width="2.0"/>
<path d="M288.2 853.3V846.7M283.7 846.7H292.7" stroke="#000" stroke-width="1.2" fill="none"/>
<rect x="308.0" y="854.3" width="16.0" height="32.2" fill="url(#hR)" stroke="#000" stroke-width="2.0"/>
<path d="M316.0 853.3V848.5M311.5 848.5H320.5" stroke="#000" stroke-width="1.2" fill="none"/>
<circle cx="105.5" cy="767.0" r="3.15" fill="#000"/>
<circle cx="117.8" cy="768.5" r="3.15" fill="#000"/>
<circle cx="105.0" cy="801.5" r="3.15" fill="#000"/>
<circle cx="118.5" cy="801.5" r="3.15" fill="#000"/>
<circle cx="112.0" cy="831.6" r="3.15" fill="#000"/>
<rect x="136.5" y="744.6" width="6.0" height="6.0" fill="#000"/>
<rect x="136.5" y="796.0" width="6.0" height="6.0" fill="#000"/>
<rect x="131.5" y="808.0" width="6.0" height="6.0" fill="#000"/>
<rect x="141.0" y="809.0" width="6.0" height="6.0" fill="#000"/>
<rect x="136.5" y="819.0" width="6.0" height="6.0" fill="#000"/>
<path d="M167.2 764.8L170.6 771.4H163.8Z" fill="#000"/>
<path d="M167.2 804.2L170.6 810.8H163.8Z" fill="#000"/>
<path d="M167.2 819.2L170.6 825.8H163.8Z" fill="#000"/>
<path d="M167.2 829.2L170.6 835.8H163.8Z" fill="#000"/>
<path d="M167.2 835.7L170.6 842.3H163.8Z" fill="#000"/>
<path d="M192.5 809.3L195.9 802.7H189.1Z" fill="#000"/>
<path d="M199.0 810.8L202.4 804.2H195.6Z" fill="#000"/>
<path d="M195.3 833.8L198.8 827.2H191.9Z" fill="#000"/>
<path d="M195.3 838.8L198.8 832.2H191.9Z" fill="#000"/>
<circle cx="232.8" cy="781.5" r="3.15" fill="#000"/>
<circle cx="232.8" cy="798.0" r="3.15" fill="#000"/>
<circle cx="227.0" cy="848.0" r="3.15" fill="#000"/>
<circle cx="238.5" cy="854.5" r="3.15" fill="#000"/>
<circle cx="232.8" cy="863.5" r="3.15" fill="#000"/>
<rect x="251.5" y="842.5" width="6.0" height="6.0" fill="#000"/>
<rect x="263.5" y="846.5" width="6.0" height="6.0" fill="#000"/>
<rect x="253.0" y="859.0" width="6.0" height="6.0" fill="#000"/>
<rect x="257.3" y="863.0" width="6.0" height="6.0" fill="#000"/>
<rect x="262.0" y="855.0" width="6.0" height="6.0" fill="#000"/>
<path d="M288.2 825.7L291.6 832.3H284.8Z" fill="#000"/>
<path d="M292.0 847.2L295.4 853.8H288.6Z" fill="#000"/>
<path d="M283.0 858.2L286.4 864.8H279.6Z" fill="#000"/>
<path d="M294.0 860.2L297.4 866.8H290.6Z" fill="#000"/>
<path d="M316.0 839.3L319.4 832.7H312.6Z" fill="#000"/>
<path d="M314.0 857.8L317.4 851.2H310.6Z" fill="#000"/>
<path d="M318.0 859.8L321.4 853.2H314.6Z" fill="#000"/>
<text x="113.8" y="906.4" font-family="'Liberation Sans', Arial, sans-serif" font-weight="700" font-size="12.5" text-anchor="end" transform="rotate(-45 113.8 906.4)" stroke="#000" stroke-width="0.3">WT+Saline</text>
<text x="141.3" y="906.4" font-family="'Liberation Sans', Arial, sans-serif" font-weight="700" font-size="12.5" text-anchor="end" transform="rotate(-45 141.3 906.4)" stroke="#000" stroke-width="0.3">WT+Ang II</text>
<text x="169.0" y="906.4" font-family="'Liberation Sans', Arial, sans-serif" font-weight="700" font-size="12.5" text-anchor="end" transform="rotate(-45 169.0 906.4)" stroke="#000" stroke-width="0.3">Nr4a1<tspan dy="-4.4" font-size="7.5">-/-</tspan><tspan dy="4.4">+Saline</tspan></text>
<text x="197.1" y="906.4" font-family="'Liberation Sans', Arial, sans-serif" font-weight="700" font-size="12.5" text-anchor="end" transform="rotate(-45 197.1 906.4)" stroke="#000" stroke-width="0.3">Nr4a1<tspan dy="-4.4" font-size="7.5">-/-</tspan><tspan dy="4.4">+Ang II</tspan></text>
<text x="234.6" y="906.4" font-family="'Liberation Sans', Arial, sans-serif" font-weight="700" font-size="12.5" text-anchor="end" transform="rotate(-45 234.6 906.4)" stroke="#000" stroke-width="0.3">WT+Saline</text>
<text x="262.1" y="906.4" font-family="'Liberation Sans', Arial, sans-serif" font-weight="700" font-size="12.5" text-anchor="end" transform="rotate(-45 262.1 906.4)" stroke="#000" stroke-width="0.3">WT+Ang II</text>
<text x="290.0" y="906.4" font-family="'Liberation Sans', Arial, sans-serif" font-weight="700" font-size="12.5" text-anchor="end" transform="rotate(-45 290.0 906.4)" stroke="#000" stroke-width="0.3">Nr4a1<tspan dy="-4.4" font-size="7.5">-/-</tspan><tspan dy="4.4">+Saline</tspan></text>
<text x="317.8" y="906.4" font-family="'Liberation Sans', Arial, sans-serif" font-weight="700" font-size="12.5" text-anchor="end" transform="rotate(-45 317.8 906.4)" stroke="#000" stroke-width="0.3">Nr4a1<tspan dy="-4.4" font-size="7.5">-/-</tspan><tspan dy="4.4">+Ang II</tspan></text>
<path d="M61 981.3H167.3M183.8 981.3H289.3" stroke="#000" stroke-width="2.3"/>
<text x="115.7" y="1000.3" font-family="'Liberation Sans', Arial, sans-serif" font-weight="700" font-size="13" text-anchor="middle" stroke="#000" stroke-width="0.3">3 days</text>
<text x="236.3" y="1000.3" font-family="'Liberation Sans', Arial, sans-serif" font-weight="700" font-size="13" text-anchor="middle" stroke="#000" stroke-width="0.3">7 days</text>
<path d="M471.4 729.1V893.1" stroke="#000" stroke-width="1.7" fill="none"/>
<path d="M464.6 892.3H471.4" stroke="#000" stroke-width="1.7"/>
<text x="462.2" y="896.7" font-family="'Liberation Sans', Arial, sans-serif" font-weight="700" font-size="12.3" text-anchor="end" stroke="#000" stroke-width="0.3">0</text>
<path d="M464.6 859.8H471.4" stroke="#000" stroke-width="1.7"/>
<text x="462.2" y="864.3" font-family="'Liberation Sans', Arial, sans-serif" font-weight="700" font-size="12.3" text-anchor="end" stroke="#000" stroke-width="0.3">2000</text>
<path d="M464.6 827.4H471.4" stroke="#000" stroke-width="1.7"/>
<text x="462.2" y="831.8" font-family="'Liberation Sans', Arial, sans-serif" font-weight="700" font-size="12.3" text-anchor="end" stroke="#000" stroke-width="0.3">4000</text>
<path d="M464.6 794.9H471.4" stroke="#000" stroke-width="1.7"/>
<text x="462.2" y="799.3" font-family="'Liberation Sans', Arial, sans-serif" font-weight="700" font-size="12.3" text-anchor="end" stroke="#000" stroke-width="0.3">6000</text>
<path d="M464.6 762.5H471.4" stroke="#000" stroke-width="1.7"/>
<text x="462.2" y="766.9" font-family="'Liberation Sans', Arial, sans-serif" font-weight="700" font-size="12.3" text-anchor="end" stroke="#000" stroke-width="0.3">8000</text>
<path d="M464.6 730.0H471.4" stroke="#000" stroke-width="1.7"/>
<text x="462.2" y="734.4" font-family="'Liberation Sans', Arial, sans-serif" font-weight="700" font-size="12.3" text-anchor="end" stroke="#000" stroke-width="0.3">10000</text>
<path d="M471.4 892.3H579.7" stroke="#000" stroke-width="1.7" fill="none"/>
<path d="M485.6 892.3V898.8" stroke="#000" stroke-width="1.7"/>
<path d="M499.9 892.3V898.8" stroke="#000" stroke-width="1.7"/>
<path d="M514.4 892.3V898.8" stroke="#000" stroke-width="1.7"/>
<path d="M535.7 892.3V898.8" stroke="#000" stroke-width="1.7"/>
<path d="M550.1 892.3V898.8" stroke="#000" stroke-width="1.7"/>
<path d="M564.8 892.3V898.8" stroke="#000" stroke-width="1.7"/>
<text x="404.9" y="810.9" font-family="'Liberation Sans', Arial, sans-serif" font-weight="700" font-size="15.4" text-anchor="middle" transform="rotate(-90 404.9 810.9)" stroke="#000" stroke-width="0.3">Flourescent Intensity</text>
<text x="423.5" y="810.9" font-family="'Liberation Sans', Arial, sans-serif" font-weight="700" font-size="15.5" text-anchor="middle" transform="rotate(-90 423.5 810.9)" stroke="#000" stroke-width="0.3">(Arbitary Unit)</text>
<rect x="479.4" y="815.1" width="12.5" height="77.1" fill="#ff2a00" stroke="#000" stroke-width="2.1"/>
<rect x="493.6" y="798.8" width="12.5" height="93.5" fill="url(#hRf)" stroke="#000" stroke-width="2.1"/>
<rect x="508.1" y="818.3" width="12.5" height="74.0" fill="url(#cR)" stroke="#000" stroke-width="2.1"/>
<rect x="529.5" y="804.6" width="12.5" height="87.6" fill="#0a46ff" stroke="#000" stroke-width="2.1"/>
<rect x="543.9" y="781.9" width="12.5" height="110.3" fill="url(#hBf)" stroke="#000" stroke-width="2.1"/>
<rect x="558.5" y="806.5" width="12.5" height="85.7" fill="url(#cB)" stroke="#000" stroke-width="2.1"/>
<path d="M485.6 814.1V789.4M481.9 789.4H489.4" stroke="#333" stroke-width="1.1" fill="none"/>
<path d="M499.9 797.8V764.2M496.1 764.2H503.6" stroke="#333" stroke-width="1.1" fill="none"/>
<path d="M514.4 817.3V804.4M510.6 804.4H518.1" stroke="#333" stroke-width="1.1" fill="none"/>
<path d="M535.7 803.6V769.3M532.0 769.3H539.5" stroke="#333" stroke-width="1.1" fill="none"/>
<path d="M550.1 780.9V762.3M546.4 762.3H553.9" stroke="#333" stroke-width="1.1" fill="none"/>
<path d="M564.8 805.5V781.2M561.0 781.2H568.5" stroke="#333" stroke-width="1.1" fill="none"/>
<text x="487.5" y="910.6" font-family="'Liberation Sans', Arial, sans-serif" font-weight="700" font-size="12.7" text-anchor="end" transform="rotate(-45 487.5 910.6)" stroke="#000" stroke-width="0.3">WT Untreated</text>
<text x="501.8" y="910.6" font-family="'Liberation Sans', Arial, sans-serif" font-weight="700" font-size="12.7" text-anchor="end" transform="rotate(-45 501.8 910.6)" stroke="#000" stroke-width="0.3">WT+Ang II 300nM</text>
<text x="516.3" y="910.6" font-family="'Liberation Sans', Arial, sans-serif" font-weight="700" font-size="12.7" text-anchor="end" transform="rotate(-45 516.3 910.6)" stroke="#000" stroke-width="0.3">WT+LPS 20ng/mL</text>
<text x="537.6" y="910.6" font-family="'Liberation Sans', Arial, sans-serif" font-weight="700" font-size="12.7" text-anchor="end" transform="rotate(-45 537.6 910.6)" stroke="#000" stroke-width="0.3">Nr4a1<tspan dy="-4.4" font-size="7.6">-/-</tspan><tspan dy="4.4"> Untreated</tspan></text>
<text x="552.0" y="910.6" font-family="'Liberation Sans', Arial, sans-serif" font-weight="700" font-size="12.7" text-anchor="end" transform="rotate(-45 552.0 910.6)" stroke="#000" stroke-width="0.3">Nr4a1<tspan dy="-4.4" font-size="7.6">-/-</tspan><tspan dy="4.4">+Ang II 300nM</tspan></text>
<text x="566.7" y="910.6" font-family="'Liberation Sans', Arial, sans-serif" font-weight="700" font-size="12.7" text-anchor="end" transform="rotate(-45 566.7 910.6)" stroke="#000" stroke-width="0.3">Nr4a1<tspan dy="-4.4" font-size="7.6">-/-</tspan><tspan dy="4.4">+LPS 20ng/mL</tspan></text>
</svg>
</body></html>
